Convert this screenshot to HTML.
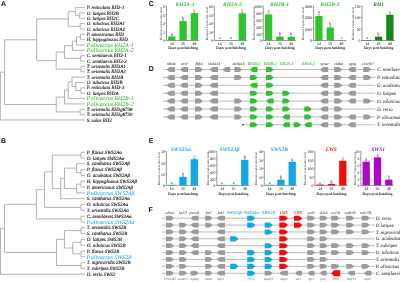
<!DOCTYPE html>
<html><head><meta charset="utf-8"><style>
html,body{margin:0;padding:0;background:#fff;}
body{width:400px;height:282px;overflow:hidden;}
svg{display:block;text-rendering:geometricPrecision;}
.s{font-family:'Liberation Serif','DejaVu Serif',serif;}
.a{font-family:'Liberation Sans','DejaVu Sans',sans-serif;}
</style></head><body>
<svg width="400" height="282" viewBox="0 0 400 282">
<rect width="400" height="282" fill="#fff"/>
<text class="a" x="0.90" y="5.80" font-size="7.0" fill="#111" font-weight="bold">A</text>
<text class="a" x="1.00" y="143.20" font-size="7.0" fill="#111" font-weight="bold">B</text>
<text class="a" x="148.80" y="5.70" font-size="7.0" fill="#111" font-weight="bold">C</text>
<text class="a" x="148.80" y="70.90" font-size="7.0" fill="#111" font-weight="bold">D</text>
<text class="a" x="148.80" y="143.40" font-size="7.0" fill="#111" font-weight="bold">E</text>
<text class="a" x="148.60" y="211.90" font-size="7.0" fill="#111" font-weight="bold">F</text>
<line x1="0.40" y1="72.13" x2="0.40" y2="119.95" stroke="#ababab" stroke-width="0.9"/>
<line x1="0.40" y1="72.13" x2="4.60" y2="72.13" stroke="#ababab" stroke-width="0.9"/>
<line x1="0.40" y1="119.95" x2="85.00" y2="119.95" stroke="#ababab" stroke-width="0.9"/>
<line x1="4.60" y1="39.78" x2="4.60" y2="104.49" stroke="#ababab" stroke-width="0.9"/>
<line x1="4.60" y1="39.78" x2="36.70" y2="39.78" stroke="#ababab" stroke-width="0.9"/>
<line x1="4.60" y1="104.49" x2="56.20" y2="104.49" stroke="#ababab" stroke-width="0.9"/>
<line x1="36.70" y1="18.97" x2="36.70" y2="60.60" stroke="#ababab" stroke-width="0.9"/>
<line x1="36.70" y1="18.97" x2="68.20" y2="18.97" stroke="#ababab" stroke-width="0.9"/>
<line x1="36.70" y1="60.60" x2="56.20" y2="60.60" stroke="#ababab" stroke-width="0.9"/>
<line x1="68.20" y1="11.61" x2="68.20" y2="26.32" stroke="#ababab" stroke-width="0.9"/>
<line x1="68.20" y1="11.61" x2="75.70" y2="11.61" stroke="#ababab" stroke-width="0.9"/>
<line x1="68.20" y1="26.32" x2="80.20" y2="26.32" stroke="#ababab" stroke-width="0.9"/>
<line x1="75.70" y1="7.60" x2="75.70" y2="15.62" stroke="#ababab" stroke-width="0.9"/>
<line x1="75.70" y1="7.60" x2="85.00" y2="7.60" stroke="#ababab" stroke-width="0.9"/>
<line x1="75.70" y1="15.62" x2="79.60" y2="15.62" stroke="#ababab" stroke-width="0.9"/>
<line x1="79.60" y1="12.95" x2="79.60" y2="18.30" stroke="#ababab" stroke-width="0.9"/>
<line x1="79.60" y1="12.95" x2="85.00" y2="12.95" stroke="#ababab" stroke-width="0.9"/>
<line x1="79.60" y1="18.30" x2="85.00" y2="18.30" stroke="#ababab" stroke-width="0.9"/>
<line x1="80.20" y1="23.65" x2="80.20" y2="29.00" stroke="#ababab" stroke-width="0.9"/>
<line x1="80.20" y1="23.65" x2="85.00" y2="23.65" stroke="#ababab" stroke-width="0.9"/>
<line x1="80.20" y1="29.00" x2="85.00" y2="29.00" stroke="#ababab" stroke-width="0.9"/>
<line x1="56.20" y1="52.07" x2="56.20" y2="69.12" stroke="#ababab" stroke-width="0.9"/>
<line x1="56.20" y1="52.07" x2="64.50" y2="52.07" stroke="#ababab" stroke-width="0.9"/>
<line x1="56.20" y1="69.12" x2="81.00" y2="69.12" stroke="#ababab" stroke-width="0.9"/>
<line x1="64.50" y1="45.72" x2="64.50" y2="58.42" stroke="#ababab" stroke-width="0.9"/>
<line x1="64.50" y1="45.72" x2="72.40" y2="45.72" stroke="#ababab" stroke-width="0.9"/>
<line x1="64.50" y1="58.42" x2="80.60" y2="58.42" stroke="#ababab" stroke-width="0.9"/>
<line x1="72.40" y1="41.04" x2="72.40" y2="50.40" stroke="#ababab" stroke-width="0.9"/>
<line x1="72.40" y1="41.04" x2="76.50" y2="41.04" stroke="#ababab" stroke-width="0.9"/>
<line x1="72.40" y1="50.40" x2="85.00" y2="50.40" stroke="#ababab" stroke-width="0.9"/>
<line x1="76.50" y1="37.02" x2="76.50" y2="45.05" stroke="#ababab" stroke-width="0.9"/>
<line x1="76.50" y1="37.02" x2="80.40" y2="37.02" stroke="#ababab" stroke-width="0.9"/>
<line x1="76.50" y1="45.05" x2="85.00" y2="45.05" stroke="#ababab" stroke-width="0.9"/>
<line x1="80.40" y1="34.35" x2="80.40" y2="39.70" stroke="#ababab" stroke-width="0.9"/>
<line x1="80.40" y1="34.35" x2="85.00" y2="34.35" stroke="#ababab" stroke-width="0.9"/>
<line x1="80.40" y1="39.70" x2="85.00" y2="39.70" stroke="#ababab" stroke-width="0.9"/>
<line x1="80.60" y1="55.75" x2="80.60" y2="61.10" stroke="#ababab" stroke-width="0.9"/>
<line x1="80.60" y1="55.75" x2="85.00" y2="55.75" stroke="#ababab" stroke-width="0.9"/>
<line x1="80.60" y1="61.10" x2="85.00" y2="61.10" stroke="#ababab" stroke-width="0.9"/>
<line x1="81.00" y1="66.45" x2="81.00" y2="71.80" stroke="#ababab" stroke-width="0.9"/>
<line x1="81.00" y1="66.45" x2="85.00" y2="66.45" stroke="#ababab" stroke-width="0.9"/>
<line x1="81.00" y1="71.80" x2="85.00" y2="71.80" stroke="#ababab" stroke-width="0.9"/>
<line x1="56.20" y1="97.05" x2="56.20" y2="111.92" stroke="#ababab" stroke-width="0.9"/>
<line x1="56.20" y1="97.05" x2="64.50" y2="97.05" stroke="#ababab" stroke-width="0.9"/>
<line x1="56.20" y1="111.92" x2="80.20" y2="111.92" stroke="#ababab" stroke-width="0.9"/>
<line x1="64.50" y1="90.19" x2="64.50" y2="103.90" stroke="#ababab" stroke-width="0.9"/>
<line x1="64.50" y1="90.19" x2="68.20" y2="90.19" stroke="#ababab" stroke-width="0.9"/>
<line x1="64.50" y1="103.90" x2="85.00" y2="103.90" stroke="#ababab" stroke-width="0.9"/>
<line x1="68.20" y1="81.83" x2="68.20" y2="98.55" stroke="#ababab" stroke-width="0.9"/>
<line x1="68.20" y1="81.83" x2="72.00" y2="81.83" stroke="#ababab" stroke-width="0.9"/>
<line x1="68.20" y1="98.55" x2="85.00" y2="98.55" stroke="#ababab" stroke-width="0.9"/>
<line x1="72.00" y1="77.15" x2="72.00" y2="86.51" stroke="#ababab" stroke-width="0.9"/>
<line x1="72.00" y1="77.15" x2="85.00" y2="77.15" stroke="#ababab" stroke-width="0.9"/>
<line x1="72.00" y1="86.51" x2="75.70" y2="86.51" stroke="#ababab" stroke-width="0.9"/>
<line x1="75.70" y1="82.50" x2="75.70" y2="90.52" stroke="#ababab" stroke-width="0.9"/>
<line x1="75.70" y1="82.50" x2="85.00" y2="82.50" stroke="#ababab" stroke-width="0.9"/>
<line x1="75.70" y1="90.52" x2="81.00" y2="90.52" stroke="#ababab" stroke-width="0.9"/>
<line x1="81.00" y1="87.85" x2="81.00" y2="93.20" stroke="#ababab" stroke-width="0.9"/>
<line x1="81.00" y1="87.85" x2="85.00" y2="87.85" stroke="#ababab" stroke-width="0.9"/>
<line x1="81.00" y1="93.20" x2="85.00" y2="93.20" stroke="#ababab" stroke-width="0.9"/>
<line x1="80.20" y1="109.25" x2="80.20" y2="114.60" stroke="#ababab" stroke-width="0.9"/>
<line x1="80.20" y1="109.25" x2="85.00" y2="109.25" stroke="#ababab" stroke-width="0.9"/>
<line x1="80.20" y1="114.60" x2="85.00" y2="114.60" stroke="#ababab" stroke-width="0.9"/>
<text class="s" x="86.80" y="9.15" font-size="4.85" fill="#1a1a1a" font-style="italic" stroke="#1a1a1a" stroke-width="0.13">P. reticulata RH2-1</text>
<text class="s" x="86.80" y="14.50" font-size="4.85" fill="#1a1a1a" font-style="italic" stroke="#1a1a1a" stroke-width="0.13">O. latipes RH2B</text>
<text class="s" x="86.80" y="19.85" font-size="4.85" fill="#1a1a1a" font-style="italic" stroke="#1a1a1a" stroke-width="0.13">O. latipes RH2C</text>
<text class="s" x="86.80" y="25.20" font-size="4.85" fill="#1a1a1a" font-style="italic" stroke="#1a1a1a" stroke-width="0.13">O. niloticus RH2A1</text>
<text class="s" x="86.80" y="30.55" font-size="4.85" fill="#1a1a1a" font-style="italic" stroke="#1a1a1a" stroke-width="0.13">O. niloticus RH2A2</text>
<text class="s" x="86.80" y="35.90" font-size="4.85" fill="#1a1a1a" font-style="italic" stroke="#1a1a1a" stroke-width="0.13">P. americanus RH2</text>
<text class="s" x="86.80" y="41.25" font-size="4.85" fill="#1a1a1a" font-style="italic" stroke="#1a1a1a" stroke-width="0.13">H. hippoglossus RH2</text>
<text class="s" x="86.60" y="46.95" font-size="5.85" fill="#27b827" font-style="italic" stroke="#27b827" stroke-width="0.03">P.olivaceus RH2A-1</text>
<text class="s" x="86.60" y="52.30" font-size="5.85" fill="#27b827" font-style="italic" stroke="#27b827" stroke-width="0.03">P.olivaceus RH2A-2</text>
<text class="s" x="86.80" y="57.30" font-size="4.85" fill="#1a1a1a" font-style="italic" stroke="#1a1a1a" stroke-width="0.13">C. semilaevis RH2-1</text>
<text class="s" x="86.80" y="62.65" font-size="4.85" fill="#1a1a1a" font-style="italic" stroke="#1a1a1a" stroke-width="0.13">C. semilaevis RH2-2</text>
<text class="s" x="86.80" y="68.00" font-size="4.85" fill="#1a1a1a" font-style="italic" stroke="#1a1a1a" stroke-width="0.13">T. orientalis RH2A1</text>
<text class="s" x="86.80" y="73.35" font-size="4.85" fill="#1a1a1a" font-style="italic" stroke="#1a1a1a" stroke-width="0.13">T. orientalis RH2A2</text>
<text class="s" x="86.80" y="78.70" font-size="4.85" fill="#1a1a1a" font-style="italic" stroke="#1a1a1a" stroke-width="0.13">T. orientalis RH2B</text>
<text class="s" x="86.80" y="84.05" font-size="4.85" fill="#1a1a1a" font-style="italic" stroke="#1a1a1a" stroke-width="0.13">O. niloticus RH2B</text>
<text class="s" x="86.80" y="89.40" font-size="4.85" fill="#1a1a1a" font-style="italic" stroke="#1a1a1a" stroke-width="0.13">P. reticulata RH2-2</text>
<text class="s" x="86.80" y="94.75" font-size="4.85" fill="#1a1a1a" font-style="italic" stroke="#1a1a1a" stroke-width="0.13">O. latipes RH2A</text>
<text class="s" x="86.60" y="100.45" font-size="5.85" fill="#27b827" font-style="italic" stroke="#27b827" stroke-width="0.03">P.olivaceus RH2B-1</text>
<text class="s" x="86.60" y="105.80" font-size="5.85" fill="#27b827" font-style="italic" stroke="#27b827" stroke-width="0.03">P.olivaceus RH2B-2</text>
<text class="s" x="86.80" y="110.80" font-size="4.85" fill="#1a1a1a" font-style="italic" stroke="#1a1a1a" stroke-width="0.13">T. orientalis RH2g6738</text>
<text class="s" x="86.80" y="116.15" font-size="4.85" fill="#1a1a1a" font-style="italic" stroke="#1a1a1a" stroke-width="0.13">T. orientalis RH2g6739</text>
<text class="s" x="86.80" y="121.50" font-size="4.85" fill="#1a1a1a" font-style="italic" stroke="#1a1a1a" stroke-width="0.13">S. salar RH2</text>
<line x1="0.50" y1="228.37" x2="0.50" y2="274.21" stroke="#ababab" stroke-width="0.9"/>
<line x1="0.50" y1="228.37" x2="4.50" y2="228.37" stroke="#ababab" stroke-width="0.9"/>
<line x1="0.50" y1="274.21" x2="85.00" y2="274.21" stroke="#ababab" stroke-width="0.9"/>
<line x1="4.50" y1="204.31" x2="4.50" y2="252.42" stroke="#ababab" stroke-width="0.9"/>
<line x1="4.50" y1="204.31" x2="36.40" y2="204.31" stroke="#ababab" stroke-width="0.9"/>
<line x1="4.50" y1="252.42" x2="56.50" y2="252.42" stroke="#ababab" stroke-width="0.9"/>
<line x1="36.40" y1="189.60" x2="36.40" y2="219.01" stroke="#ababab" stroke-width="0.9"/>
<line x1="36.40" y1="189.60" x2="44.50" y2="189.60" stroke="#ababab" stroke-width="0.9"/>
<line x1="36.40" y1="219.01" x2="81.00" y2="219.01" stroke="#ababab" stroke-width="0.9"/>
<line x1="44.50" y1="171.81" x2="44.50" y2="207.39" stroke="#ababab" stroke-width="0.9"/>
<line x1="44.50" y1="171.81" x2="52.30" y2="171.81" stroke="#ababab" stroke-width="0.9"/>
<line x1="44.50" y1="207.39" x2="81.00" y2="207.39" stroke="#ababab" stroke-width="0.9"/>
<line x1="52.30" y1="155.10" x2="52.30" y2="188.51" stroke="#ababab" stroke-width="0.9"/>
<line x1="52.30" y1="155.10" x2="81.00" y2="155.10" stroke="#ababab" stroke-width="0.9"/>
<line x1="52.30" y1="188.51" x2="60.70" y2="188.51" stroke="#ababab" stroke-width="0.9"/>
<line x1="81.00" y1="152.20" x2="81.00" y2="158.01" stroke="#ababab" stroke-width="0.9"/>
<line x1="81.00" y1="152.20" x2="85.00" y2="152.20" stroke="#ababab" stroke-width="0.9"/>
<line x1="81.00" y1="158.01" x2="85.00" y2="158.01" stroke="#ababab" stroke-width="0.9"/>
<line x1="60.70" y1="178.34" x2="60.70" y2="198.68" stroke="#ababab" stroke-width="0.9"/>
<line x1="60.70" y1="178.34" x2="64.50" y2="178.34" stroke="#ababab" stroke-width="0.9"/>
<line x1="60.70" y1="198.68" x2="85.00" y2="198.68" stroke="#ababab" stroke-width="0.9"/>
<line x1="64.50" y1="168.18" x2="64.50" y2="188.51" stroke="#ababab" stroke-width="0.9"/>
<line x1="64.50" y1="168.18" x2="76.50" y2="168.18" stroke="#ababab" stroke-width="0.9"/>
<line x1="64.50" y1="188.51" x2="76.50" y2="188.51" stroke="#ababab" stroke-width="0.9"/>
<line x1="76.50" y1="163.82" x2="76.50" y2="172.53" stroke="#ababab" stroke-width="0.9"/>
<line x1="76.50" y1="163.82" x2="85.00" y2="163.82" stroke="#ababab" stroke-width="0.9"/>
<line x1="76.50" y1="172.53" x2="81.00" y2="172.53" stroke="#ababab" stroke-width="0.9"/>
<line x1="81.00" y1="169.63" x2="81.00" y2="175.44" stroke="#ababab" stroke-width="0.9"/>
<line x1="81.00" y1="169.63" x2="85.00" y2="169.63" stroke="#ababab" stroke-width="0.9"/>
<line x1="81.00" y1="175.44" x2="85.00" y2="175.44" stroke="#ababab" stroke-width="0.9"/>
<line x1="76.50" y1="184.16" x2="76.50" y2="192.87" stroke="#ababab" stroke-width="0.9"/>
<line x1="76.50" y1="184.16" x2="81.00" y2="184.16" stroke="#ababab" stroke-width="0.9"/>
<line x1="76.50" y1="192.87" x2="85.00" y2="192.87" stroke="#ababab" stroke-width="0.9"/>
<line x1="81.00" y1="181.25" x2="81.00" y2="187.06" stroke="#ababab" stroke-width="0.9"/>
<line x1="81.00" y1="181.25" x2="85.00" y2="181.25" stroke="#ababab" stroke-width="0.9"/>
<line x1="81.00" y1="187.06" x2="85.00" y2="187.06" stroke="#ababab" stroke-width="0.9"/>
<line x1="81.00" y1="204.49" x2="81.00" y2="210.30" stroke="#ababab" stroke-width="0.9"/>
<line x1="81.00" y1="204.49" x2="85.00" y2="204.49" stroke="#ababab" stroke-width="0.9"/>
<line x1="81.00" y1="210.30" x2="85.00" y2="210.30" stroke="#ababab" stroke-width="0.9"/>
<line x1="81.00" y1="216.11" x2="81.00" y2="221.92" stroke="#ababab" stroke-width="0.9"/>
<line x1="81.00" y1="216.11" x2="85.00" y2="216.11" stroke="#ababab" stroke-width="0.9"/>
<line x1="81.00" y1="221.92" x2="85.00" y2="221.92" stroke="#ababab" stroke-width="0.9"/>
<line x1="56.50" y1="239.35" x2="56.50" y2="265.50" stroke="#ababab" stroke-width="0.9"/>
<line x1="56.50" y1="239.35" x2="64.50" y2="239.35" stroke="#ababab" stroke-width="0.9"/>
<line x1="56.50" y1="265.50" x2="81.00" y2="265.50" stroke="#ababab" stroke-width="0.9"/>
<line x1="64.50" y1="230.63" x2="64.50" y2="248.06" stroke="#ababab" stroke-width="0.9"/>
<line x1="64.50" y1="230.63" x2="81.00" y2="230.63" stroke="#ababab" stroke-width="0.9"/>
<line x1="64.50" y1="248.06" x2="72.70" y2="248.06" stroke="#ababab" stroke-width="0.9"/>
<line x1="81.00" y1="227.73" x2="81.00" y2="233.54" stroke="#ababab" stroke-width="0.9"/>
<line x1="81.00" y1="227.73" x2="85.00" y2="227.73" stroke="#ababab" stroke-width="0.9"/>
<line x1="81.00" y1="233.54" x2="85.00" y2="233.54" stroke="#ababab" stroke-width="0.9"/>
<line x1="72.70" y1="242.25" x2="72.70" y2="253.87" stroke="#ababab" stroke-width="0.9"/>
<line x1="72.70" y1="242.25" x2="81.00" y2="242.25" stroke="#ababab" stroke-width="0.9"/>
<line x1="72.70" y1="253.87" x2="81.00" y2="253.87" stroke="#ababab" stroke-width="0.9"/>
<line x1="81.00" y1="239.35" x2="81.00" y2="245.16" stroke="#ababab" stroke-width="0.9"/>
<line x1="81.00" y1="239.35" x2="85.00" y2="239.35" stroke="#ababab" stroke-width="0.9"/>
<line x1="81.00" y1="245.16" x2="85.00" y2="245.16" stroke="#ababab" stroke-width="0.9"/>
<line x1="81.00" y1="250.97" x2="81.00" y2="256.78" stroke="#ababab" stroke-width="0.9"/>
<line x1="81.00" y1="250.97" x2="85.00" y2="250.97" stroke="#ababab" stroke-width="0.9"/>
<line x1="81.00" y1="256.78" x2="85.00" y2="256.78" stroke="#ababab" stroke-width="0.9"/>
<line x1="81.00" y1="262.59" x2="81.00" y2="268.40" stroke="#ababab" stroke-width="0.9"/>
<line x1="81.00" y1="262.59" x2="85.00" y2="262.59" stroke="#ababab" stroke-width="0.9"/>
<line x1="81.00" y1="268.40" x2="85.00" y2="268.40" stroke="#ababab" stroke-width="0.9"/>
<text class="s" x="86.80" y="153.85" font-size="4.95" fill="#1a1a1a" font-style="italic" stroke="#1a1a1a" stroke-width="0.13">P. flavus SWS2A&#945;</text>
<text class="s" x="86.80" y="159.66" font-size="4.95" fill="#1a1a1a" font-style="italic" stroke="#1a1a1a" stroke-width="0.13">O. latipes SWS2A&#945;</text>
<text class="s" x="86.80" y="165.47" font-size="4.95" fill="#1a1a1a" font-style="italic" stroke="#1a1a1a" stroke-width="0.13">S. cantharus SWS2A&#946;</text>
<text class="s" x="86.80" y="171.28" font-size="4.95" fill="#1a1a1a" font-style="italic" stroke="#1a1a1a" stroke-width="0.13">P. flavus SWS2A&#946;</text>
<text class="s" x="86.80" y="177.09" font-size="4.95" fill="#1a1a1a" font-style="italic" stroke="#1a1a1a" stroke-width="0.13">G. aculeatus SWS2A&#946;</text>
<text class="s" x="86.80" y="182.90" font-size="4.95" fill="#1a1a1a" font-style="italic" stroke="#1a1a1a" stroke-width="0.13">H. hippoglossus SWS2A&#946;</text>
<text class="s" x="86.80" y="188.71" font-size="4.95" fill="#1a1a1a" font-style="italic" stroke="#1a1a1a" stroke-width="0.13">P. americanus SWS2A&#946;</text>
<text class="s" x="86.60" y="194.87" font-size="5.85" fill="#12a8e8" font-style="italic" stroke="#12a8e8" stroke-width="0.03">P.olivaceus SWS2A&#946;</text>
<text class="s" x="86.80" y="200.33" font-size="4.95" fill="#1a1a1a" font-style="italic" stroke="#1a1a1a" stroke-width="0.13">S. cantharus SWS2A&#945;</text>
<text class="s" x="86.80" y="206.14" font-size="4.95" fill="#1a1a1a" font-style="italic" stroke="#1a1a1a" stroke-width="0.13">O. niloticus SWS2A&#945;</text>
<text class="s" x="86.80" y="211.95" font-size="4.95" fill="#1a1a1a" font-style="italic" stroke="#1a1a1a" stroke-width="0.13">T. orientalis SWS2A&#945;</text>
<text class="s" x="86.80" y="217.76" font-size="4.95" fill="#1a1a1a" font-style="italic" stroke="#1a1a1a" stroke-width="0.13">C. semilaevis SWS2A&#945;</text>
<text class="s" x="86.60" y="223.92" font-size="5.85" fill="#12a8e8" font-style="italic" stroke="#12a8e8" stroke-width="0.03">P.olivaceus SWS2A&#945;</text>
<text class="s" x="86.80" y="229.38" font-size="4.95" fill="#1a1a1a" font-style="italic" stroke="#1a1a1a" stroke-width="0.13">T. orientalis SWS2B</text>
<text class="s" x="86.80" y="235.19" font-size="4.95" fill="#1a1a1a" font-style="italic" stroke="#1a1a1a" stroke-width="0.13">S. cantharus SWS2B</text>
<text class="s" x="86.80" y="241.00" font-size="4.95" fill="#1a1a1a" font-style="italic" stroke="#1a1a1a" stroke-width="0.13">O. latipes SWS2B</text>
<text class="s" x="86.80" y="246.81" font-size="4.95" fill="#1a1a1a" font-style="italic" stroke="#1a1a1a" stroke-width="0.13">O. niloticus SWS2B</text>
<text class="s" x="86.80" y="252.62" font-size="4.95" fill="#1a1a1a" font-style="italic" stroke="#1a1a1a" stroke-width="0.13">P. flavus SWS2B</text>
<text class="s" x="86.60" y="258.78" font-size="5.85" fill="#12a8e8" font-style="italic" stroke="#12a8e8" stroke-width="0.03">P.olivaceus SWS2B</text>
<text class="s" x="86.80" y="264.24" font-size="4.95" fill="#1a1a1a" font-style="italic" stroke="#1a1a1a" stroke-width="0.13">T. nigroviridis SWS2B</text>
<text class="s" x="86.80" y="270.05" font-size="4.95" fill="#1a1a1a" font-style="italic" stroke="#1a1a1a" stroke-width="0.13">T. rubripes SWS2B</text>
<text class="s" x="86.80" y="275.86" font-size="4.95" fill="#1a1a1a" font-style="italic" stroke="#1a1a1a" stroke-width="0.13">D. rerio SWS2</text>
<line x1="166.50" y1="6.00" x2="166.50" y2="40.50" stroke="#555" stroke-width="0.6"/>
<line x1="166.50" y1="40.50" x2="199.25" y2="40.50" stroke="#555" stroke-width="0.6"/>
<line x1="165.30" y1="40.50" x2="166.50" y2="40.50" stroke="#555" stroke-width="0.5"/>
<text class="s" x="164.90" y="42.40" font-size="3.7" fill="#333" stroke="#333" stroke-width="0.05" text-anchor="end">0</text>
<line x1="165.30" y1="31.88" x2="166.50" y2="31.88" stroke="#555" stroke-width="0.5"/>
<text class="s" x="164.90" y="33.77" font-size="3.7" fill="#333" stroke="#333" stroke-width="0.05" text-anchor="end">2</text>
<line x1="165.30" y1="23.25" x2="166.50" y2="23.25" stroke="#555" stroke-width="0.5"/>
<text class="s" x="164.90" y="25.15" font-size="3.7" fill="#333" stroke="#333" stroke-width="0.05" text-anchor="end">4</text>
<line x1="165.30" y1="14.62" x2="166.50" y2="14.62" stroke="#555" stroke-width="0.5"/>
<text class="s" x="164.90" y="16.52" font-size="3.7" fill="#333" stroke="#333" stroke-width="0.05" text-anchor="end">6</text>
<line x1="165.30" y1="6.00" x2="166.50" y2="6.00" stroke="#555" stroke-width="0.5"/>
<text class="s" x="164.90" y="7.90" font-size="3.7" fill="#333" stroke="#333" stroke-width="0.05" text-anchor="end">8</text>
<rect x="168.15" y="36.50" width="7.30" height="4.00" fill="#2ec42e"/>
<line x1="171.80" y1="35.70" x2="171.80" y2="36.50" stroke="#333" stroke-width="0.4"/>
<line x1="170.80" y1="35.70" x2="172.80" y2="35.70" stroke="#333" stroke-width="0.4"/>
<text class="s" x="171.80" y="34.70" font-size="3.9" fill="#333" stroke="#333" stroke-width="0.05" text-anchor="middle">a</text>
<text class="s" x="171.80" y="45.00" font-size="3.8" fill="#222" stroke="#222" stroke-width="0.07" text-anchor="middle">14</text>
<rect x="179.45" y="21.00" width="7.30" height="19.50" fill="#2ec42e"/>
<line x1="183.10" y1="19.80" x2="183.10" y2="21.00" stroke="#333" stroke-width="0.4"/>
<line x1="182.10" y1="19.80" x2="184.10" y2="19.80" stroke="#333" stroke-width="0.4"/>
<text class="s" x="183.10" y="18.80" font-size="3.9" fill="#333" stroke="#333" stroke-width="0.05" text-anchor="middle">b</text>
<text class="s" x="183.10" y="45.00" font-size="3.8" fill="#222" stroke="#222" stroke-width="0.07" text-anchor="middle">25</text>
<rect x="190.75" y="13.10" width="7.30" height="27.40" fill="#2ec42e"/>
<line x1="194.40" y1="11.90" x2="194.40" y2="13.10" stroke="#333" stroke-width="0.4"/>
<line x1="193.40" y1="11.90" x2="195.40" y2="11.90" stroke="#333" stroke-width="0.4"/>
<text class="s" x="194.40" y="10.90" font-size="3.9" fill="#333" stroke="#333" stroke-width="0.05" text-anchor="middle">c</text>
<text class="s" x="194.40" y="45.00" font-size="3.8" fill="#222" stroke="#222" stroke-width="0.07" text-anchor="middle">49</text>
<text class="s" x="183.10" y="49.20" font-size="3.9" fill="#222" stroke="#222" stroke-width="0.08" text-anchor="middle">Days post hatching</text>
<text class="s" x="161.90" y="23.25" font-size="3.3" fill="#333" text-anchor="middle" transform="rotate(-90 161.90 23.25)">Relative expression level</text>
<text class="s" x="185.00" y="5.60" font-size="5.5" fill="#2ec42e" font-style="italic" font-weight="bold" text-anchor="middle">RH2A-1</text>
<line x1="214.40" y1="6.00" x2="214.40" y2="40.50" stroke="#555" stroke-width="0.6"/>
<line x1="214.40" y1="40.50" x2="247.15" y2="40.50" stroke="#555" stroke-width="0.6"/>
<line x1="213.20" y1="40.50" x2="214.40" y2="40.50" stroke="#555" stroke-width="0.5"/>
<text class="s" x="212.80" y="42.40" font-size="3.7" fill="#333" stroke="#333" stroke-width="0.05" text-anchor="end">0</text>
<line x1="213.20" y1="31.88" x2="214.40" y2="31.88" stroke="#555" stroke-width="0.5"/>
<text class="s" x="212.80" y="33.77" font-size="3.7" fill="#333" stroke="#333" stroke-width="0.05" text-anchor="end">20</text>
<line x1="213.20" y1="23.25" x2="214.40" y2="23.25" stroke="#555" stroke-width="0.5"/>
<text class="s" x="212.80" y="25.15" font-size="3.7" fill="#333" stroke="#333" stroke-width="0.05" text-anchor="end">40</text>
<line x1="213.20" y1="14.62" x2="214.40" y2="14.62" stroke="#555" stroke-width="0.5"/>
<text class="s" x="212.80" y="16.52" font-size="3.7" fill="#333" stroke="#333" stroke-width="0.05" text-anchor="end">60</text>
<line x1="213.20" y1="6.00" x2="214.40" y2="6.00" stroke="#555" stroke-width="0.5"/>
<text class="s" x="212.80" y="7.90" font-size="3.7" fill="#333" stroke="#333" stroke-width="0.05" text-anchor="end">80</text>
<rect x="216.05" y="40.00" width="7.30" height="0.50" fill="#2ec42e"/>
<text class="s" x="219.70" y="39.00" font-size="3.9" fill="#333" stroke="#333" stroke-width="0.05" text-anchor="middle">a</text>
<text class="s" x="219.70" y="45.00" font-size="3.8" fill="#222" stroke="#222" stroke-width="0.07" text-anchor="middle">14</text>
<rect x="227.35" y="40.00" width="7.30" height="0.50" fill="#2ec42e"/>
<text class="s" x="231.00" y="39.00" font-size="3.9" fill="#333" stroke="#333" stroke-width="0.05" text-anchor="middle">a</text>
<text class="s" x="231.00" y="45.00" font-size="3.8" fill="#222" stroke="#222" stroke-width="0.07" text-anchor="middle">25</text>
<rect x="238.65" y="13.30" width="7.30" height="27.20" fill="#2ec42e"/>
<line x1="242.30" y1="12.10" x2="242.30" y2="13.30" stroke="#333" stroke-width="0.4"/>
<line x1="241.30" y1="12.10" x2="243.30" y2="12.10" stroke="#333" stroke-width="0.4"/>
<text class="s" x="242.30" y="11.10" font-size="3.9" fill="#333" stroke="#333" stroke-width="0.05" text-anchor="middle">c</text>
<text class="s" x="242.30" y="45.00" font-size="3.8" fill="#222" stroke="#222" stroke-width="0.07" text-anchor="middle">49</text>
<text class="s" x="231.00" y="49.20" font-size="3.9" fill="#222" stroke="#222" stroke-width="0.08" text-anchor="middle">Days post hatching</text>
<text class="s" x="208.40" y="23.25" font-size="3.3" fill="#333" text-anchor="middle" transform="rotate(-90 208.40 23.25)">Relative expression level</text>
<text class="s" x="232.50" y="5.60" font-size="5.5" fill="#2ec42e" font-style="italic" font-weight="bold" text-anchor="middle">RH2A-2</text>
<line x1="263.30" y1="6.00" x2="263.30" y2="40.50" stroke="#555" stroke-width="0.6"/>
<line x1="263.30" y1="40.50" x2="296.05" y2="40.50" stroke="#555" stroke-width="0.6"/>
<line x1="262.10" y1="40.50" x2="263.30" y2="40.50" stroke="#555" stroke-width="0.5"/>
<text class="s" x="261.70" y="42.40" font-size="3.7" fill="#333" stroke="#333" stroke-width="0.05" text-anchor="end">0</text>
<line x1="262.10" y1="33.60" x2="263.30" y2="33.60" stroke="#555" stroke-width="0.5"/>
<text class="s" x="261.70" y="35.50" font-size="3.7" fill="#333" stroke="#333" stroke-width="0.05" text-anchor="end">200</text>
<line x1="262.10" y1="26.70" x2="263.30" y2="26.70" stroke="#555" stroke-width="0.5"/>
<text class="s" x="261.70" y="28.60" font-size="3.7" fill="#333" stroke="#333" stroke-width="0.05" text-anchor="end">400</text>
<line x1="262.10" y1="19.80" x2="263.30" y2="19.80" stroke="#555" stroke-width="0.5"/>
<text class="s" x="261.70" y="21.70" font-size="3.7" fill="#333" stroke="#333" stroke-width="0.05" text-anchor="end">600</text>
<line x1="262.10" y1="12.90" x2="263.30" y2="12.90" stroke="#555" stroke-width="0.5"/>
<text class="s" x="261.70" y="14.80" font-size="3.7" fill="#333" stroke="#333" stroke-width="0.05" text-anchor="end">800</text>
<line x1="262.10" y1="6.00" x2="263.30" y2="6.00" stroke="#555" stroke-width="0.5"/>
<text class="s" x="261.70" y="7.90" font-size="3.7" fill="#333" stroke="#333" stroke-width="0.05" text-anchor="end">1000</text>
<rect x="264.95" y="14.50" width="7.30" height="26.00" fill="#2ec42e"/>
<line x1="268.60" y1="13.30" x2="268.60" y2="14.50" stroke="#333" stroke-width="0.4"/>
<line x1="267.60" y1="13.30" x2="269.60" y2="13.30" stroke="#333" stroke-width="0.4"/>
<text class="s" x="268.60" y="12.30" font-size="3.9" fill="#333" stroke="#333" stroke-width="0.05" text-anchor="middle">a</text>
<text class="s" x="268.60" y="45.00" font-size="3.8" fill="#222" stroke="#222" stroke-width="0.07" text-anchor="middle">14</text>
<rect x="276.25" y="36.70" width="7.30" height="3.80" fill="#2ec42e"/>
<line x1="279.90" y1="36.10" x2="279.90" y2="36.70" stroke="#333" stroke-width="0.4"/>
<line x1="278.90" y1="36.10" x2="280.90" y2="36.10" stroke="#333" stroke-width="0.4"/>
<text class="s" x="279.90" y="35.10" font-size="3.9" fill="#333" stroke="#333" stroke-width="0.05" text-anchor="middle">b</text>
<text class="s" x="279.90" y="45.00" font-size="3.8" fill="#222" stroke="#222" stroke-width="0.07" text-anchor="middle">25</text>
<rect x="287.55" y="36.90" width="7.30" height="3.60" fill="#2ec42e"/>
<line x1="291.20" y1="36.30" x2="291.20" y2="36.90" stroke="#333" stroke-width="0.4"/>
<line x1="290.20" y1="36.30" x2="292.20" y2="36.30" stroke="#333" stroke-width="0.4"/>
<text class="s" x="291.20" y="35.30" font-size="3.9" fill="#333" stroke="#333" stroke-width="0.05" text-anchor="middle">b</text>
<text class="s" x="291.20" y="45.00" font-size="3.8" fill="#222" stroke="#222" stroke-width="0.07" text-anchor="middle">49</text>
<text class="s" x="279.90" y="49.20" font-size="3.9" fill="#222" stroke="#222" stroke-width="0.08" text-anchor="middle">Days post hatching</text>
<text class="s" x="254.90" y="23.25" font-size="3.3" fill="#333" text-anchor="middle" transform="rotate(-90 254.90 23.25)">Relative expression level</text>
<text class="s" x="279.50" y="5.60" font-size="5.5" fill="#2ec42e" font-style="italic" font-weight="bold" text-anchor="middle">RH2B-1</text>
<line x1="313.60" y1="6.00" x2="313.60" y2="40.50" stroke="#555" stroke-width="0.6"/>
<line x1="313.60" y1="40.50" x2="346.35" y2="40.50" stroke="#555" stroke-width="0.6"/>
<line x1="312.40" y1="40.50" x2="313.60" y2="40.50" stroke="#555" stroke-width="0.5"/>
<text class="s" x="312.00" y="42.40" font-size="3.7" fill="#333" stroke="#333" stroke-width="0.05" text-anchor="end">0</text>
<line x1="312.40" y1="29.00" x2="313.60" y2="29.00" stroke="#555" stroke-width="0.5"/>
<text class="s" x="312.00" y="30.90" font-size="3.7" fill="#333" stroke="#333" stroke-width="0.05" text-anchor="end">1000</text>
<line x1="312.40" y1="17.50" x2="313.60" y2="17.50" stroke="#555" stroke-width="0.5"/>
<text class="s" x="312.00" y="19.40" font-size="3.7" fill="#333" stroke="#333" stroke-width="0.05" text-anchor="end">2000</text>
<line x1="312.40" y1="6.00" x2="313.60" y2="6.00" stroke="#555" stroke-width="0.5"/>
<text class="s" x="312.00" y="7.90" font-size="3.7" fill="#333" stroke="#333" stroke-width="0.05" text-anchor="end">3000</text>
<rect x="315.25" y="16.00" width="7.30" height="24.50" fill="#2ec42e"/>
<line x1="318.90" y1="14.20" x2="318.90" y2="16.00" stroke="#333" stroke-width="0.4"/>
<line x1="317.90" y1="14.20" x2="319.90" y2="14.20" stroke="#333" stroke-width="0.4"/>
<text class="s" x="318.90" y="13.20" font-size="3.9" fill="#333" stroke="#333" stroke-width="0.05" text-anchor="middle">a</text>
<text class="s" x="318.90" y="45.00" font-size="3.8" fill="#222" stroke="#222" stroke-width="0.07" text-anchor="middle">14</text>
<rect x="326.55" y="27.50" width="7.30" height="13.00" fill="#2ec42e"/>
<line x1="330.20" y1="26.10" x2="330.20" y2="27.50" stroke="#333" stroke-width="0.4"/>
<line x1="329.20" y1="26.10" x2="331.20" y2="26.10" stroke="#333" stroke-width="0.4"/>
<text class="s" x="330.20" y="25.10" font-size="3.9" fill="#333" stroke="#333" stroke-width="0.05" text-anchor="middle">b</text>
<text class="s" x="330.20" y="45.00" font-size="3.8" fill="#222" stroke="#222" stroke-width="0.07" text-anchor="middle">25</text>
<rect x="337.85" y="40.00" width="7.30" height="0.50" fill="#2ec42e"/>
<text class="s" x="341.50" y="38.70" font-size="3.9" fill="#333" stroke="#333" stroke-width="0.05" text-anchor="middle">c</text>
<text class="s" x="341.50" y="45.00" font-size="3.8" fill="#222" stroke="#222" stroke-width="0.07" text-anchor="middle">49</text>
<text class="s" x="330.20" y="49.20" font-size="3.9" fill="#222" stroke="#222" stroke-width="0.08" text-anchor="middle">Days post hatching</text>
<text class="s" x="304.40" y="23.25" font-size="3.3" fill="#333" text-anchor="middle" transform="rotate(-90 304.40 23.25)">Relative expression level</text>
<text class="s" x="330.00" y="5.60" font-size="5.5" fill="#2ec42e" font-style="italic" font-weight="bold" text-anchor="middle">RH2B-2</text>
<line x1="362.00" y1="6.00" x2="362.00" y2="40.50" stroke="#555" stroke-width="0.6"/>
<line x1="362.00" y1="40.50" x2="394.75" y2="40.50" stroke="#555" stroke-width="0.6"/>
<line x1="360.80" y1="40.50" x2="362.00" y2="40.50" stroke="#555" stroke-width="0.5"/>
<text class="s" x="360.40" y="42.40" font-size="3.7" fill="#333" stroke="#333" stroke-width="0.05" text-anchor="end">0</text>
<line x1="360.80" y1="29.00" x2="362.00" y2="29.00" stroke="#555" stroke-width="0.5"/>
<text class="s" x="360.40" y="30.90" font-size="3.7" fill="#333" stroke="#333" stroke-width="0.05" text-anchor="end">50</text>
<line x1="360.80" y1="17.50" x2="362.00" y2="17.50" stroke="#555" stroke-width="0.5"/>
<text class="s" x="360.40" y="19.40" font-size="3.7" fill="#333" stroke="#333" stroke-width="0.05" text-anchor="end">100</text>
<line x1="360.80" y1="6.00" x2="362.00" y2="6.00" stroke="#555" stroke-width="0.5"/>
<text class="s" x="360.40" y="7.90" font-size="3.7" fill="#333" stroke="#333" stroke-width="0.05" text-anchor="end">150</text>
<rect x="363.65" y="40.00" width="7.30" height="0.50" fill="#178617"/>
<text class="s" x="367.30" y="39.00" font-size="3.9" fill="#333" stroke="#333" stroke-width="0.05" text-anchor="middle">a</text>
<text class="s" x="367.30" y="45.00" font-size="3.8" fill="#222" stroke="#222" stroke-width="0.07" text-anchor="middle">14</text>
<rect x="374.95" y="36.70" width="7.30" height="3.80" fill="#178617"/>
<line x1="378.60" y1="36.10" x2="378.60" y2="36.70" stroke="#333" stroke-width="0.4"/>
<line x1="377.60" y1="36.10" x2="379.60" y2="36.10" stroke="#333" stroke-width="0.4"/>
<text class="s" x="378.60" y="35.10" font-size="3.9" fill="#333" stroke="#333" stroke-width="0.05" text-anchor="middle">b</text>
<text class="s" x="378.60" y="45.00" font-size="3.8" fill="#222" stroke="#222" stroke-width="0.07" text-anchor="middle">25</text>
<rect x="386.25" y="14.80" width="7.30" height="25.70" fill="#178617"/>
<line x1="389.90" y1="13.80" x2="389.90" y2="14.80" stroke="#333" stroke-width="0.4"/>
<line x1="388.90" y1="13.80" x2="390.90" y2="13.80" stroke="#333" stroke-width="0.4"/>
<text class="s" x="389.90" y="12.80" font-size="3.9" fill="#333" stroke="#333" stroke-width="0.05" text-anchor="middle">c</text>
<text class="s" x="389.90" y="45.00" font-size="3.8" fill="#222" stroke="#222" stroke-width="0.07" text-anchor="middle">49</text>
<text class="s" x="378.60" y="49.20" font-size="3.9" fill="#222" stroke="#222" stroke-width="0.08" text-anchor="middle">Days post hatching</text>
<text class="s" x="354.40" y="23.25" font-size="3.3" fill="#333" text-anchor="middle" transform="rotate(-90 354.40 23.25)">Relative expression level</text>
<text class="s" x="378.60" y="5.60" font-size="5.5" fill="#178617" font-style="italic" font-weight="bold" text-anchor="middle">RH1</text>
<line x1="166.40" y1="151.50" x2="166.40" y2="185.40" stroke="#555" stroke-width="0.6"/>
<line x1="166.40" y1="185.40" x2="199.15" y2="185.40" stroke="#555" stroke-width="0.6"/>
<line x1="165.20" y1="185.40" x2="166.40" y2="185.40" stroke="#555" stroke-width="0.5"/>
<text class="s" x="164.80" y="187.30" font-size="3.7" fill="#333" stroke="#333" stroke-width="0.05" text-anchor="end">0</text>
<line x1="165.20" y1="174.10" x2="166.40" y2="174.10" stroke="#555" stroke-width="0.5"/>
<text class="s" x="164.80" y="176.00" font-size="3.7" fill="#333" stroke="#333" stroke-width="0.05" text-anchor="end">10</text>
<line x1="165.20" y1="162.80" x2="166.40" y2="162.80" stroke="#555" stroke-width="0.5"/>
<text class="s" x="164.80" y="164.70" font-size="3.7" fill="#333" stroke="#333" stroke-width="0.05" text-anchor="end">20</text>
<line x1="165.20" y1="151.50" x2="166.40" y2="151.50" stroke="#555" stroke-width="0.5"/>
<text class="s" x="164.80" y="153.40" font-size="3.7" fill="#333" stroke="#333" stroke-width="0.05" text-anchor="end">30</text>
<rect x="168.05" y="184.80" width="7.30" height="0.60" fill="#12a8e8"/>
<text class="s" x="171.70" y="183.50" font-size="3.9" fill="#333" stroke="#333" stroke-width="0.05" text-anchor="middle">a</text>
<text class="s" x="171.70" y="189.90" font-size="3.8" fill="#222" stroke="#222" stroke-width="0.07" text-anchor="middle">14</text>
<rect x="179.35" y="176.80" width="7.30" height="8.60" fill="#12a8e8"/>
<line x1="183.00" y1="175.90" x2="183.00" y2="176.80" stroke="#333" stroke-width="0.4"/>
<line x1="182.00" y1="175.90" x2="184.00" y2="175.90" stroke="#333" stroke-width="0.4"/>
<text class="s" x="183.00" y="174.90" font-size="3.9" fill="#333" stroke="#333" stroke-width="0.05" text-anchor="middle">b</text>
<text class="s" x="183.00" y="189.90" font-size="3.8" fill="#222" stroke="#222" stroke-width="0.07" text-anchor="middle">25</text>
<rect x="190.65" y="159.20" width="7.30" height="26.20" fill="#12a8e8"/>
<line x1="194.30" y1="158.20" x2="194.30" y2="159.20" stroke="#333" stroke-width="0.4"/>
<line x1="193.30" y1="158.20" x2="195.30" y2="158.20" stroke="#333" stroke-width="0.4"/>
<text class="s" x="194.30" y="157.20" font-size="3.9" fill="#333" stroke="#333" stroke-width="0.05" text-anchor="middle">c</text>
<text class="s" x="194.30" y="189.90" font-size="3.8" fill="#222" stroke="#222" stroke-width="0.07" text-anchor="middle">49</text>
<text class="s" x="183.00" y="194.60" font-size="3.9" fill="#222" stroke="#222" stroke-width="0.08" text-anchor="middle">Days post hatching</text>
<text class="s" x="160.40" y="168.45" font-size="3.3" fill="#333" text-anchor="middle" transform="rotate(-90 160.40 168.45)">Relative expression level</text>
<text class="s" x="181.00" y="151.40" font-size="5.5" fill="#12a8e8" font-style="italic" font-weight="bold" text-anchor="middle">SWS2A&#945;</text>
<line x1="216.90" y1="151.50" x2="216.90" y2="185.40" stroke="#555" stroke-width="0.6"/>
<line x1="216.90" y1="185.40" x2="249.65" y2="185.40" stroke="#555" stroke-width="0.6"/>
<line x1="215.70" y1="185.40" x2="216.90" y2="185.40" stroke="#555" stroke-width="0.5"/>
<text class="s" x="215.30" y="187.30" font-size="3.7" fill="#333" stroke="#333" stroke-width="0.05" text-anchor="end">0</text>
<line x1="215.70" y1="178.62" x2="216.90" y2="178.62" stroke="#555" stroke-width="0.5"/>
<text class="s" x="215.30" y="180.52" font-size="3.7" fill="#333" stroke="#333" stroke-width="0.05" text-anchor="end">200</text>
<line x1="215.70" y1="171.84" x2="216.90" y2="171.84" stroke="#555" stroke-width="0.5"/>
<text class="s" x="215.30" y="173.74" font-size="3.7" fill="#333" stroke="#333" stroke-width="0.05" text-anchor="end">400</text>
<line x1="215.70" y1="165.06" x2="216.90" y2="165.06" stroke="#555" stroke-width="0.5"/>
<text class="s" x="215.30" y="166.96" font-size="3.7" fill="#333" stroke="#333" stroke-width="0.05" text-anchor="end">600</text>
<line x1="215.70" y1="158.28" x2="216.90" y2="158.28" stroke="#555" stroke-width="0.5"/>
<text class="s" x="215.30" y="160.18" font-size="3.7" fill="#333" stroke="#333" stroke-width="0.05" text-anchor="end">800</text>
<line x1="215.70" y1="151.50" x2="216.90" y2="151.50" stroke="#555" stroke-width="0.5"/>
<text class="s" x="215.30" y="153.40" font-size="3.7" fill="#333" stroke="#333" stroke-width="0.05" text-anchor="end">1000</text>
<rect x="218.55" y="184.90" width="7.30" height="0.50" fill="#12a8e8"/>
<text class="s" x="222.20" y="183.90" font-size="3.9" fill="#333" stroke="#333" stroke-width="0.05" text-anchor="middle">a</text>
<text class="s" x="222.20" y="189.90" font-size="3.8" fill="#222" stroke="#222" stroke-width="0.07" text-anchor="middle">14</text>
<rect x="229.85" y="184.90" width="7.30" height="0.50" fill="#12a8e8"/>
<text class="s" x="233.50" y="183.90" font-size="3.9" fill="#333" stroke="#333" stroke-width="0.05" text-anchor="middle">a</text>
<text class="s" x="233.50" y="189.90" font-size="3.8" fill="#222" stroke="#222" stroke-width="0.07" text-anchor="middle">25</text>
<rect x="241.15" y="159.90" width="7.30" height="25.50" fill="#12a8e8"/>
<line x1="244.80" y1="158.90" x2="244.80" y2="159.90" stroke="#333" stroke-width="0.4"/>
<line x1="243.80" y1="158.90" x2="245.80" y2="158.90" stroke="#333" stroke-width="0.4"/>
<text class="s" x="244.80" y="157.90" font-size="3.9" fill="#333" stroke="#333" stroke-width="0.05" text-anchor="middle">b</text>
<text class="s" x="244.80" y="189.90" font-size="3.8" fill="#222" stroke="#222" stroke-width="0.07" text-anchor="middle">49</text>
<text class="s" x="233.50" y="194.60" font-size="3.9" fill="#222" stroke="#222" stroke-width="0.08" text-anchor="middle">Days post hatching</text>
<text class="s" x="209.40" y="168.45" font-size="3.3" fill="#333" text-anchor="middle" transform="rotate(-90 209.40 168.45)">Relative expression level</text>
<text class="s" x="229.50" y="151.40" font-size="5.5" fill="#12a8e8" font-style="italic" font-weight="bold" text-anchor="middle">SWS2A&#946;</text>
<line x1="264.30" y1="151.50" x2="264.30" y2="185.40" stroke="#555" stroke-width="0.6"/>
<line x1="264.30" y1="185.40" x2="297.05" y2="185.40" stroke="#555" stroke-width="0.6"/>
<line x1="263.10" y1="185.40" x2="264.30" y2="185.40" stroke="#555" stroke-width="0.5"/>
<text class="s" x="262.70" y="187.30" font-size="3.7" fill="#333" stroke="#333" stroke-width="0.05" text-anchor="end">0</text>
<line x1="263.10" y1="176.93" x2="264.30" y2="176.93" stroke="#555" stroke-width="0.5"/>
<text class="s" x="262.70" y="178.83" font-size="3.7" fill="#333" stroke="#333" stroke-width="0.05" text-anchor="end">10</text>
<line x1="263.10" y1="168.45" x2="264.30" y2="168.45" stroke="#555" stroke-width="0.5"/>
<text class="s" x="262.70" y="170.35" font-size="3.7" fill="#333" stroke="#333" stroke-width="0.05" text-anchor="end">20</text>
<line x1="263.10" y1="159.97" x2="264.30" y2="159.97" stroke="#555" stroke-width="0.5"/>
<text class="s" x="262.70" y="161.88" font-size="3.7" fill="#333" stroke="#333" stroke-width="0.05" text-anchor="end">30</text>
<line x1="263.10" y1="151.50" x2="264.30" y2="151.50" stroke="#555" stroke-width="0.5"/>
<text class="s" x="262.70" y="153.40" font-size="3.7" fill="#333" stroke="#333" stroke-width="0.05" text-anchor="end">40</text>
<rect x="265.95" y="184.80" width="7.30" height="0.60" fill="#12a8e8"/>
<text class="s" x="269.60" y="183.50" font-size="3.9" fill="#333" stroke="#333" stroke-width="0.05" text-anchor="middle">a</text>
<text class="s" x="269.60" y="189.90" font-size="3.8" fill="#222" stroke="#222" stroke-width="0.07" text-anchor="middle">14</text>
<rect x="277.25" y="179.70" width="7.30" height="5.70" fill="#12a8e8"/>
<line x1="280.90" y1="178.80" x2="280.90" y2="179.70" stroke="#333" stroke-width="0.4"/>
<line x1="279.90" y1="178.80" x2="281.90" y2="178.80" stroke="#333" stroke-width="0.4"/>
<text class="s" x="280.90" y="177.80" font-size="3.9" fill="#333" stroke="#333" stroke-width="0.05" text-anchor="middle">b</text>
<text class="s" x="280.90" y="189.90" font-size="3.8" fill="#222" stroke="#222" stroke-width="0.07" text-anchor="middle">25</text>
<rect x="288.55" y="161.80" width="7.30" height="23.60" fill="#12a8e8"/>
<line x1="292.20" y1="160.50" x2="292.20" y2="161.80" stroke="#333" stroke-width="0.4"/>
<line x1="291.20" y1="160.50" x2="293.20" y2="160.50" stroke="#333" stroke-width="0.4"/>
<text class="s" x="292.20" y="159.50" font-size="3.9" fill="#333" stroke="#333" stroke-width="0.05" text-anchor="middle">c</text>
<text class="s" x="292.20" y="189.90" font-size="3.8" fill="#222" stroke="#222" stroke-width="0.07" text-anchor="middle">49</text>
<text class="s" x="280.90" y="194.60" font-size="3.9" fill="#222" stroke="#222" stroke-width="0.08" text-anchor="middle">Days post hatching</text>
<text class="s" x="256.90" y="168.45" font-size="3.3" fill="#333" text-anchor="middle" transform="rotate(-90 256.90 168.45)">Relative expression level</text>
<text class="s" x="279.30" y="151.40" font-size="5.5" fill="#12a8e8" font-style="italic" font-weight="bold" text-anchor="middle">SWS2B</text>
<line x1="314.90" y1="151.50" x2="314.90" y2="185.40" stroke="#555" stroke-width="0.6"/>
<line x1="314.90" y1="185.40" x2="347.65" y2="185.40" stroke="#555" stroke-width="0.6"/>
<line x1="313.70" y1="185.40" x2="314.90" y2="185.40" stroke="#555" stroke-width="0.5"/>
<text class="s" x="313.30" y="187.30" font-size="3.7" fill="#333" stroke="#333" stroke-width="0.05" text-anchor="end">0</text>
<line x1="313.70" y1="176.93" x2="314.90" y2="176.93" stroke="#555" stroke-width="0.5"/>
<text class="s" x="313.30" y="178.83" font-size="3.7" fill="#333" stroke="#333" stroke-width="0.05" text-anchor="end">50</text>
<line x1="313.70" y1="168.45" x2="314.90" y2="168.45" stroke="#555" stroke-width="0.5"/>
<text class="s" x="313.30" y="170.35" font-size="3.7" fill="#333" stroke="#333" stroke-width="0.05" text-anchor="end">100</text>
<line x1="313.70" y1="159.97" x2="314.90" y2="159.97" stroke="#555" stroke-width="0.5"/>
<text class="s" x="313.30" y="161.88" font-size="3.7" fill="#333" stroke="#333" stroke-width="0.05" text-anchor="end">150</text>
<line x1="313.70" y1="151.50" x2="314.90" y2="151.50" stroke="#555" stroke-width="0.5"/>
<text class="s" x="313.30" y="153.40" font-size="3.7" fill="#333" stroke="#333" stroke-width="0.05" text-anchor="end">200</text>
<rect x="316.55" y="184.50" width="7.30" height="0.90" fill="#f20c0c"/>
<text class="s" x="320.20" y="183.50" font-size="3.9" fill="#333" stroke="#333" stroke-width="0.05" text-anchor="middle">a</text>
<text class="s" x="320.20" y="189.90" font-size="3.8" fill="#222" stroke="#222" stroke-width="0.07" text-anchor="middle">14</text>
<rect x="327.85" y="184.00" width="7.30" height="1.40" fill="#f20c0c"/>
<line x1="331.50" y1="183.60" x2="331.50" y2="184.00" stroke="#333" stroke-width="0.4"/>
<line x1="330.50" y1="183.60" x2="332.50" y2="183.60" stroke="#333" stroke-width="0.4"/>
<text class="s" x="331.50" y="182.60" font-size="3.9" fill="#333" stroke="#333" stroke-width="0.05" text-anchor="middle">b</text>
<text class="s" x="331.50" y="189.90" font-size="3.8" fill="#222" stroke="#222" stroke-width="0.07" text-anchor="middle">25</text>
<rect x="339.15" y="160.80" width="7.30" height="24.60" fill="#f20c0c"/>
<line x1="342.80" y1="159.80" x2="342.80" y2="160.80" stroke="#333" stroke-width="0.4"/>
<line x1="341.80" y1="159.80" x2="343.80" y2="159.80" stroke="#333" stroke-width="0.4"/>
<text class="s" x="342.80" y="158.80" font-size="3.9" fill="#333" stroke="#333" stroke-width="0.05" text-anchor="middle">c</text>
<text class="s" x="342.80" y="189.90" font-size="3.8" fill="#222" stroke="#222" stroke-width="0.07" text-anchor="middle">49</text>
<text class="s" x="331.50" y="194.60" font-size="3.9" fill="#222" stroke="#222" stroke-width="0.08" text-anchor="middle">Days post hatching</text>
<text class="s" x="306.40" y="168.45" font-size="3.3" fill="#333" text-anchor="middle" transform="rotate(-90 306.40 168.45)">Relative expression level</text>
<text class="s" x="331.30" y="151.40" font-size="5.5" fill="#f20c0c" font-style="italic" font-weight="bold" text-anchor="middle">LWS</text>
<line x1="360.90" y1="151.50" x2="360.90" y2="185.40" stroke="#555" stroke-width="0.6"/>
<line x1="360.90" y1="185.40" x2="393.65" y2="185.40" stroke="#555" stroke-width="0.6"/>
<line x1="359.70" y1="185.40" x2="360.90" y2="185.40" stroke="#555" stroke-width="0.5"/>
<text class="s" x="359.30" y="187.30" font-size="3.7" fill="#333" stroke="#333" stroke-width="0.05" text-anchor="end">0</text>
<line x1="359.70" y1="178.62" x2="360.90" y2="178.62" stroke="#555" stroke-width="0.5"/>
<text class="s" x="359.30" y="180.52" font-size="3.7" fill="#333" stroke="#333" stroke-width="0.05" text-anchor="end">2</text>
<line x1="359.70" y1="171.84" x2="360.90" y2="171.84" stroke="#555" stroke-width="0.5"/>
<text class="s" x="359.30" y="173.74" font-size="3.7" fill="#333" stroke="#333" stroke-width="0.05" text-anchor="end">4</text>
<line x1="359.70" y1="165.06" x2="360.90" y2="165.06" stroke="#555" stroke-width="0.5"/>
<text class="s" x="359.30" y="166.96" font-size="3.7" fill="#333" stroke="#333" stroke-width="0.05" text-anchor="end">6</text>
<line x1="359.70" y1="158.28" x2="360.90" y2="158.28" stroke="#555" stroke-width="0.5"/>
<text class="s" x="359.30" y="160.18" font-size="3.7" fill="#333" stroke="#333" stroke-width="0.05" text-anchor="end">8</text>
<line x1="359.70" y1="151.50" x2="360.90" y2="151.50" stroke="#555" stroke-width="0.5"/>
<text class="s" x="359.30" y="153.40" font-size="3.7" fill="#333" stroke="#333" stroke-width="0.05" text-anchor="end">10</text>
<rect x="362.55" y="161.70" width="7.30" height="23.70" fill="#b004c6"/>
<line x1="366.20" y1="160.50" x2="366.20" y2="161.70" stroke="#333" stroke-width="0.4"/>
<line x1="365.20" y1="160.50" x2="367.20" y2="160.50" stroke="#333" stroke-width="0.4"/>
<text class="s" x="366.20" y="159.50" font-size="3.9" fill="#333" stroke="#333" stroke-width="0.05" text-anchor="middle">a</text>
<text class="s" x="366.20" y="189.90" font-size="3.8" fill="#222" stroke="#222" stroke-width="0.07" text-anchor="middle">14</text>
<rect x="373.85" y="157.40" width="7.30" height="28.00" fill="#b004c6"/>
<line x1="377.50" y1="156.80" x2="377.50" y2="157.40" stroke="#333" stroke-width="0.4"/>
<line x1="376.50" y1="156.80" x2="378.50" y2="156.80" stroke="#333" stroke-width="0.4"/>
<text class="s" x="377.50" y="155.80" font-size="3.9" fill="#333" stroke="#333" stroke-width="0.05" text-anchor="middle">a</text>
<text class="s" x="377.50" y="189.90" font-size="3.8" fill="#222" stroke="#222" stroke-width="0.07" text-anchor="middle">25</text>
<rect x="385.15" y="179.70" width="7.30" height="5.70" fill="#b004c6"/>
<line x1="388.80" y1="179.20" x2="388.80" y2="179.70" stroke="#333" stroke-width="0.4"/>
<line x1="387.80" y1="179.20" x2="389.80" y2="179.20" stroke="#333" stroke-width="0.4"/>
<text class="s" x="388.80" y="178.20" font-size="3.9" fill="#333" stroke="#333" stroke-width="0.05" text-anchor="middle">b</text>
<text class="s" x="388.80" y="189.90" font-size="3.8" fill="#222" stroke="#222" stroke-width="0.07" text-anchor="middle">49</text>
<text class="s" x="377.50" y="194.60" font-size="3.9" fill="#222" stroke="#222" stroke-width="0.08" text-anchor="middle">Days post hatching</text>
<text class="s" x="355.90" y="168.45" font-size="3.3" fill="#333" text-anchor="middle" transform="rotate(-90 355.90 168.45)">Relative expression level</text>
<text class="s" x="378.20" y="151.40" font-size="5.5" fill="#b004c6" font-style="italic" font-weight="bold" text-anchor="middle">SWS1</text>
<line x1="162.80" y1="69.50" x2="375.30" y2="69.50" stroke="#a6a6a6" stroke-width="0.75"/>
<text class="s" x="377.00" y="71.10" font-size="4.9" fill="#333" font-style="italic" stroke="#333" stroke-width="0.06">C. semilaevis</text>
<line x1="162.80" y1="77.40" x2="375.30" y2="77.40" stroke="#a6a6a6" stroke-width="0.75"/>
<text class="s" x="377.00" y="79.00" font-size="4.9" fill="#333" font-style="italic" stroke="#333" stroke-width="0.06">P. reticulata</text>
<line x1="162.80" y1="85.30" x2="375.30" y2="85.30" stroke="#a6a6a6" stroke-width="0.75"/>
<text class="s" x="377.00" y="86.90" font-size="4.9" fill="#333" font-style="italic" stroke="#333" stroke-width="0.06">G. aculeatus</text>
<line x1="162.80" y1="93.20" x2="375.30" y2="93.20" stroke="#a6a6a6" stroke-width="0.75"/>
<text class="s" x="377.00" y="94.80" font-size="4.9" fill="#333" font-style="italic" stroke="#333" stroke-width="0.06">O. latipes</text>
<line x1="162.80" y1="101.10" x2="375.30" y2="101.10" stroke="#a6a6a6" stroke-width="0.75"/>
<text class="s" x="377.00" y="102.70" font-size="4.9" fill="#333" font-style="italic" stroke="#333" stroke-width="0.06">O. niloticus</text>
<line x1="162.80" y1="109.00" x2="375.30" y2="109.00" stroke="#a6a6a6" stroke-width="0.75"/>
<text class="s" x="377.00" y="110.60" font-size="4.9" fill="#333" font-style="italic" stroke="#333" stroke-width="0.06">D. rerio</text>
<line x1="162.80" y1="116.90" x2="375.30" y2="116.90" stroke="#a6a6a6" stroke-width="0.75"/>
<text class="s" x="377.00" y="118.50" font-size="4.9" fill="#333" font-style="italic" stroke="#333" stroke-width="0.06">P. olivaceus</text>
<line x1="243.00" y1="124.80" x2="375.30" y2="124.80" stroke="#a6a6a6" stroke-width="0.75"/>
<circle cx="243" cy="124.80" r="0.8" fill="#111"/>
<text class="s" x="377.00" y="126.40" font-size="4.9" fill="#333" font-style="italic" stroke="#333" stroke-width="0.06">T. orientalis</text>
<path d="M174.80,67.00 L170.20,67.00 Q168.94,67.00 166.60,69.50 Q168.94,72.00 170.20,72.00 L174.80,72.00 Z" fill="#9b9b9b"/>
<path d="M188.00,67.00 L183.60,67.00 Q182.34,67.00 180.00,69.50 Q182.34,72.00 183.60,72.00 L188.00,72.00 Z" fill="#9b9b9b"/>
<path d="M195.00,67.00 L199.29,67.00 Q200.52,67.00 202.80,69.50 Q200.52,72.00 199.29,72.00 L195.00,72.00 Z" fill="#9b9b9b"/>
<path d="M218.00,67.00 L213.10,67.00 Q211.84,67.00 209.50,69.50 Q211.84,72.00 213.10,72.00 L218.00,72.00 Z" fill="#9b9b9b"/>
<path d="M230.20,67.00 L225.97,67.00 Q224.75,67.00 222.50,69.50 Q224.75,72.00 225.97,72.00 L230.20,72.00 Z" fill="#9b9b9b"/>
<path d="M234.30,67.00 L238.53,67.00 Q239.75,67.00 242.00,69.50 Q239.75,72.00 238.53,72.00 L234.30,72.00 Z" fill="#9b9b9b"/>
<path d="M257.50,67.00 L253.32,67.00 Q252.12,67.00 249.90,69.50 Q252.12,72.00 253.32,72.00 L257.50,72.00 Z" fill="#2ec42e"/>
<path d="M266.00,67.00 L270.18,67.00 Q271.38,67.00 273.60,69.50 Q271.38,72.00 270.18,72.00 L266.00,72.00 Z" fill="#2ec42e"/>
<path d="M328.20,67.00 L323.80,67.00 Q322.54,67.00 320.20,69.50 Q322.54,72.00 323.80,72.00 L328.20,72.00 Z" fill="#9b9b9b"/>
<path d="M334.20,67.00 L338.70,67.00 Q339.96,67.00 342.30,69.50 Q339.96,72.00 338.70,72.00 L334.20,72.00 Z" fill="#9b9b9b"/>
<path d="M355.80,67.00 L351.51,67.00 Q350.28,67.00 348.00,69.50 Q350.28,72.00 351.51,72.00 L355.80,72.00 Z" fill="#9b9b9b"/>
<path d="M363.30,67.00 L367.64,67.00 Q368.89,67.00 371.20,69.50 Q368.89,72.00 367.64,72.00 L363.30,72.00 Z" fill="#9b9b9b"/>
<path d="M174.80,74.90 L170.20,74.90 Q168.94,74.90 166.60,77.40 Q168.94,79.90 170.20,79.90 L174.80,79.90 Z" fill="#9b9b9b"/>
<path d="M188.00,74.90 L183.60,74.90 Q182.34,74.90 180.00,77.40 Q182.34,79.90 183.60,79.90 L188.00,79.90 Z" fill="#9b9b9b"/>
<path d="M195.00,74.90 L199.29,74.90 Q200.52,74.90 202.80,77.40 Q200.52,79.90 199.29,79.90 L195.00,79.90 Z" fill="#9b9b9b"/>
<path d="M218.00,74.90 L213.10,74.90 Q211.84,74.90 209.50,77.40 Q211.84,79.90 213.10,79.90 L218.00,79.90 Z" fill="#9b9b9b"/>
<path d="M234.30,74.90 L238.53,74.90 Q239.75,74.90 242.00,77.40 Q239.75,79.90 238.53,79.90 L234.30,79.90 Z" fill="#9b9b9b"/>
<path d="M249.90,74.90 L254.08,74.90 Q255.28,74.90 257.50,77.40 Q255.28,79.90 254.08,79.90 L249.90,79.90 Z" fill="#2ec42e"/>
<path d="M266.00,74.90 L270.18,74.90 Q271.38,74.90 273.60,77.40 Q271.38,79.90 270.18,79.90 L266.00,79.90 Z" fill="#2ec42e"/>
<path d="M328.20,74.90 L323.80,74.90 Q322.54,74.90 320.20,77.40 Q322.54,79.90 323.80,79.90 L328.20,79.90 Z" fill="#9b9b9b"/>
<path d="M334.20,74.90 L338.70,74.90 Q339.96,74.90 342.30,77.40 Q339.96,79.90 338.70,79.90 L334.20,79.90 Z" fill="#9b9b9b"/>
<path d="M355.80,74.90 L351.51,74.90 Q350.28,74.90 348.00,77.40 Q350.28,79.90 351.51,79.90 L355.80,79.90 Z" fill="#9b9b9b"/>
<path d="M363.30,74.90 L367.64,74.90 Q368.89,74.90 371.20,77.40 Q368.89,79.90 367.64,79.90 L363.30,79.90 Z" fill="#9b9b9b"/>
<path d="M174.80,82.80 L170.20,82.80 Q168.94,82.80 166.60,85.30 Q168.94,87.80 170.20,87.80 L174.80,87.80 Z" fill="#9b9b9b"/>
<path d="M188.00,82.80 L183.60,82.80 Q182.34,82.80 180.00,85.30 Q182.34,87.80 183.60,87.80 L188.00,87.80 Z" fill="#9b9b9b"/>
<path d="M195.00,82.80 L199.29,82.80 Q200.52,82.80 202.80,85.30 Q200.52,87.80 199.29,87.80 L195.00,87.80 Z" fill="#9b9b9b"/>
<path d="M218.00,82.80 L213.10,82.80 Q211.84,82.80 209.50,85.30 Q211.84,87.80 213.10,87.80 L218.00,87.80 Z" fill="#9b9b9b"/>
<path d="M257.50,82.80 L253.32,82.80 Q252.12,82.80 249.90,85.30 Q252.12,87.80 253.32,87.80 L257.50,87.80 Z" fill="#2ec42e"/>
<path d="M266.00,82.80 L270.18,82.80 Q271.38,82.80 273.60,85.30 Q271.38,87.80 270.18,87.80 L266.00,87.80 Z" fill="#2ec42e"/>
<path d="M328.20,82.80 L323.80,82.80 Q322.54,82.80 320.20,85.30 Q322.54,87.80 323.80,87.80 L328.20,87.80 Z" fill="#9b9b9b"/>
<path d="M334.20,82.80 L338.70,82.80 Q339.96,82.80 342.30,85.30 Q339.96,87.80 338.70,87.80 L334.20,87.80 Z" fill="#9b9b9b"/>
<path d="M355.80,82.80 L351.51,82.80 Q350.28,82.80 348.00,85.30 Q350.28,87.80 351.51,87.80 L355.80,87.80 Z" fill="#9b9b9b"/>
<path d="M174.80,90.70 L170.20,90.70 Q168.94,90.70 166.60,93.20 Q168.94,95.70 170.20,95.70 L174.80,95.70 Z" fill="#9b9b9b"/>
<path d="M188.00,90.70 L183.60,90.70 Q182.34,90.70 180.00,93.20 Q182.34,95.70 183.60,95.70 L188.00,95.70 Z" fill="#9b9b9b"/>
<path d="M195.00,90.70 L199.29,90.70 Q200.52,90.70 202.80,93.20 Q200.52,95.70 199.29,95.70 L195.00,95.70 Z" fill="#9b9b9b"/>
<path d="M218.00,90.70 L213.10,90.70 Q211.84,90.70 209.50,93.20 Q211.84,95.70 213.10,95.70 L218.00,95.70 Z" fill="#9b9b9b"/>
<path d="M249.90,90.70 L254.08,90.70 Q255.28,90.70 257.50,93.20 Q255.28,95.70 254.08,95.70 L249.90,95.70 Z" fill="#2ec42e"/>
<path d="M266.00,90.70 L270.18,90.70 Q271.38,90.70 273.60,93.20 Q271.38,95.70 270.18,95.70 L266.00,95.70 Z" fill="#2ec42e"/>
<path d="M282.40,90.70 L286.52,90.70 Q287.71,90.70 289.90,93.20 Q287.71,95.70 286.52,95.70 L282.40,95.70 Z" fill="#2ec42e"/>
<path d="M328.20,90.70 L323.80,90.70 Q322.54,90.70 320.20,93.20 Q322.54,95.70 323.80,95.70 L328.20,95.70 Z" fill="#9b9b9b"/>
<path d="M334.20,90.70 L338.70,90.70 Q339.96,90.70 342.30,93.20 Q339.96,95.70 338.70,95.70 L334.20,95.70 Z" fill="#9b9b9b"/>
<path d="M355.80,90.70 L351.51,90.70 Q350.28,90.70 348.00,93.20 Q350.28,95.70 351.51,95.70 L355.80,95.70 Z" fill="#9b9b9b"/>
<path d="M174.80,98.60 L170.20,98.60 Q168.94,98.60 166.60,101.10 Q168.94,103.60 170.20,103.60 L174.80,103.60 Z" fill="#9b9b9b"/>
<path d="M188.00,98.60 L183.60,98.60 Q182.34,98.60 180.00,101.10 Q182.34,103.60 183.60,103.60 L188.00,103.60 Z" fill="#9b9b9b"/>
<path d="M195.00,98.60 L199.29,98.60 Q200.52,98.60 202.80,101.10 Q200.52,103.60 199.29,103.60 L195.00,103.60 Z" fill="#9b9b9b"/>
<path d="M218.00,98.60 L213.10,98.60 Q211.84,98.60 209.50,101.10 Q211.84,103.60 213.10,103.60 L218.00,103.60 Z" fill="#9b9b9b"/>
<path d="M234.30,98.60 L238.53,98.60 Q239.75,98.60 242.00,101.10 Q239.75,103.60 238.53,103.60 L234.30,103.60 Z" fill="#9b9b9b"/>
<path d="M249.90,98.60 L254.08,98.60 Q255.28,98.60 257.50,101.10 Q255.28,103.60 254.08,103.60 L249.90,103.60 Z" fill="#2ec42e"/>
<path d="M273.60,98.60 L269.42,98.60 Q268.22,98.60 266.00,101.10 Q268.22,103.60 269.42,103.60 L273.60,103.60 Z" fill="#2ec42e"/>
<path d="M282.40,98.60 L286.52,98.60 Q287.71,98.60 289.90,101.10 Q287.71,103.60 286.52,103.60 L282.40,103.60 Z" fill="#2ec42e"/>
<path d="M328.20,98.60 L323.80,98.60 Q322.54,98.60 320.20,101.10 Q322.54,103.60 323.80,103.60 L328.20,103.60 Z" fill="#9b9b9b"/>
<path d="M334.20,98.60 L338.70,98.60 Q339.96,98.60 342.30,101.10 Q339.96,103.60 338.70,103.60 L334.20,103.60 Z" fill="#9b9b9b"/>
<path d="M355.80,98.60 L351.51,98.60 Q350.28,98.60 348.00,101.10 Q350.28,103.60 351.51,103.60 L355.80,103.60 Z" fill="#9b9b9b"/>
<path d="M363.30,98.60 L367.64,98.60 Q368.89,98.60 371.20,101.10 Q368.89,103.60 367.64,103.60 L363.30,103.60 Z" fill="#9b9b9b"/>
<path d="M174.80,106.50 L170.20,106.50 Q168.94,106.50 166.60,109.00 Q168.94,111.50 170.20,111.50 L174.80,111.50 Z" fill="#9b9b9b"/>
<path d="M188.00,106.50 L183.60,106.50 Q182.34,106.50 180.00,109.00 Q182.34,111.50 183.60,111.50 L188.00,111.50 Z" fill="#9b9b9b"/>
<path d="M195.00,106.50 L199.29,106.50 Q200.52,106.50 202.80,109.00 Q200.52,111.50 199.29,111.50 L195.00,111.50 Z" fill="#9b9b9b"/>
<path d="M218.00,106.50 L213.10,106.50 Q211.84,106.50 209.50,109.00 Q211.84,111.50 213.10,111.50 L218.00,111.50 Z" fill="#9b9b9b"/>
<path d="M234.30,106.50 L238.53,106.50 Q239.75,106.50 242.00,109.00 Q239.75,111.50 238.53,111.50 L234.30,111.50 Z" fill="#9b9b9b"/>
<path d="M249.90,106.50 L254.08,106.50 Q255.28,106.50 257.50,109.00 Q255.28,111.50 254.08,111.50 L249.90,111.50 Z" fill="#2ec42e"/>
<path d="M266.00,106.50 L270.18,106.50 Q271.38,106.50 273.60,109.00 Q271.38,111.50 270.18,111.50 L266.00,111.50 Z" fill="#2ec42e"/>
<path d="M282.40,106.50 L286.52,106.50 Q287.71,106.50 289.90,109.00 Q287.71,111.50 286.52,111.50 L282.40,111.50 Z" fill="#2ec42e"/>
<path d="M304.30,106.50 L308.37,106.50 Q309.54,106.50 311.70,109.00 Q309.54,111.50 308.37,111.50 L304.30,111.50 Z" fill="#2ec42e"/>
<path d="M328.20,106.50 L323.80,106.50 Q322.54,106.50 320.20,109.00 Q322.54,111.50 323.80,111.50 L328.20,111.50 Z" fill="#9b9b9b"/>
<path d="M334.20,106.50 L338.70,106.50 Q339.96,106.50 342.30,109.00 Q339.96,111.50 338.70,111.50 L334.20,111.50 Z" fill="#9b9b9b"/>
<path d="M174.80,114.40 L170.20,114.40 Q168.94,114.40 166.60,116.90 Q168.94,119.40 170.20,119.40 L174.80,119.40 Z" fill="#9b9b9b"/>
<path d="M188.00,114.40 L183.60,114.40 Q182.34,114.40 180.00,116.90 Q182.34,119.40 183.60,119.40 L188.00,119.40 Z" fill="#9b9b9b"/>
<path d="M195.00,114.40 L199.29,114.40 Q200.52,114.40 202.80,116.90 Q200.52,119.40 199.29,119.40 L195.00,119.40 Z" fill="#9b9b9b"/>
<path d="M218.00,114.40 L213.10,114.40 Q211.84,114.40 209.50,116.90 Q211.84,119.40 213.10,119.40 L218.00,119.40 Z" fill="#9b9b9b"/>
<path d="M234.30,114.40 L238.53,114.40 Q239.75,114.40 242.00,116.90 Q239.75,119.40 238.53,119.40 L234.30,119.40 Z" fill="#9b9b9b"/>
<path d="M249.90,114.40 L254.08,114.40 Q255.28,114.40 257.50,116.90 Q255.28,119.40 254.08,119.40 L249.90,119.40 Z" fill="#2ec42e"/>
<path d="M266.00,114.40 L270.18,114.40 Q271.38,114.40 273.60,116.90 Q271.38,119.40 270.18,119.40 L266.00,119.40 Z" fill="#2ec42e"/>
<path d="M289.90,114.40 L285.77,114.40 Q284.59,114.40 282.40,116.90 Q284.59,119.40 285.77,119.40 L289.90,119.40 Z" fill="#2ec42e"/>
<path d="M304.30,114.40 L308.37,114.40 Q309.54,114.40 311.70,116.90 Q309.54,119.40 308.37,119.40 L304.30,119.40 Z" fill="#2ec42e"/>
<path d="M328.20,114.40 L323.80,114.40 Q322.54,114.40 320.20,116.90 Q322.54,119.40 323.80,119.40 L328.20,119.40 Z" fill="#9b9b9b"/>
<path d="M334.20,114.40 L338.70,114.40 Q339.96,114.40 342.30,116.90 Q339.96,119.40 338.70,119.40 L334.20,119.40 Z" fill="#9b9b9b"/>
<path d="M355.80,114.40 L351.51,114.40 Q350.28,114.40 348.00,116.90 Q350.28,119.40 351.51,119.40 L355.80,119.40 Z" fill="#9b9b9b"/>
<path d="M363.30,114.40 L367.64,114.40 Q368.89,114.40 371.20,116.90 Q368.89,119.40 367.64,119.40 L363.30,119.40 Z" fill="#9b9b9b"/>
<path d="M249.90,122.30 L254.08,122.30 Q255.28,122.30 257.50,124.80 Q255.28,127.30 254.08,127.30 L249.90,127.30 Z" fill="#2ec42e"/>
<path d="M266.00,122.30 L270.18,122.30 Q271.38,122.30 273.60,124.80 Q271.38,127.30 270.18,127.30 L266.00,127.30 Z" fill="#2ec42e"/>
<path d="M289.90,122.30 L285.77,122.30 Q284.59,122.30 282.40,124.80 Q284.59,127.30 285.77,127.30 L289.90,127.30 Z" fill="#2ec42e"/>
<path d="M293.60,122.30 L297.67,122.30 Q298.84,122.30 301.00,124.80 Q298.84,127.30 297.67,127.30 L293.60,127.30 Z" fill="#2ec42e"/>
<path d="M311.70,122.30 L307.63,122.30 Q306.46,122.30 304.30,124.80 Q306.46,127.30 307.63,127.30 L311.70,127.30 Z" fill="#2ec42e"/>
<path d="M328.20,122.30 L323.80,122.30 Q322.54,122.30 320.20,124.80 Q322.54,127.30 323.80,127.30 L328.20,127.30 Z" fill="#9b9b9b"/>
<path d="M334.20,122.30 L338.70,122.30 Q339.96,122.30 342.30,124.80 Q339.96,127.30 338.70,127.30 L334.20,127.30 Z" fill="#9b9b9b"/>
<path d="M355.80,122.30 L351.51,122.30 Q350.28,122.30 348.00,124.80 Q350.28,127.30 351.51,127.30 L355.80,127.30 Z" fill="#9b9b9b"/>
<text class="s" x="171.20" y="64.80" font-size="3.8" fill="#444" font-style="italic" stroke="#444" stroke-width="0.05" text-anchor="middle">rab4a</text>
<text class="s" x="184.50" y="64.80" font-size="3.8" fill="#444" font-style="italic" stroke="#444" stroke-width="0.05" text-anchor="middle">arxf</text>
<text class="s" x="199.40" y="64.80" font-size="3.8" fill="#444" font-style="italic" stroke="#444" stroke-width="0.05" text-anchor="middle">fbfp1</text>
<text class="s" x="214.25" y="64.80" font-size="3.8" fill="#444" font-style="italic" stroke="#444" stroke-width="0.05" text-anchor="middle">slc6a13</text>
<text class="s" x="238.65" y="64.80" font-size="3.8" fill="#444" font-style="italic" stroke="#444" stroke-width="0.05" text-anchor="middle">slc6a1b</text>
<text class="s" x="254.20" y="64.80" font-size="4.0" fill="#27b827" font-style="italic" stroke="#27b827" stroke-width="0.05" text-anchor="middle">RH2B-1</text>
<text class="s" x="270.30" y="64.80" font-size="4.0" fill="#27b827" font-style="italic" stroke="#27b827" stroke-width="0.05" text-anchor="middle">RH2B-2</text>
<text class="s" x="286.65" y="64.80" font-size="4.0" fill="#27b827" font-style="italic" stroke="#27b827" stroke-width="0.05" text-anchor="middle">RH2A-1</text>
<text class="s" x="308.50" y="64.80" font-size="4.0" fill="#27b827" font-style="italic" stroke="#27b827" stroke-width="0.05" text-anchor="middle">RH2A-2</text>
<text class="s" x="324.70" y="64.80" font-size="3.8" fill="#444" font-style="italic" stroke="#444" stroke-width="0.05" text-anchor="middle">synpr</text>
<text class="s" x="338.75" y="64.80" font-size="3.8" fill="#444" font-style="italic" stroke="#444" stroke-width="0.05" text-anchor="middle">cadps</text>
<text class="s" x="352.40" y="64.80" font-size="3.8" fill="#444" font-style="italic" stroke="#444" stroke-width="0.05" text-anchor="middle">pgrg</text>
<text class="s" x="367.75" y="64.80" font-size="3.8" fill="#444" font-style="italic" stroke="#444" stroke-width="0.05" text-anchor="middle">c1orf47</text>
<line x1="162.20" y1="218.20" x2="374.80" y2="218.20" stroke="#a6a6a6" stroke-width="0.75"/>
<text class="s" x="375.80" y="219.80" font-size="4.9" fill="#333" font-style="italic" stroke="#333" stroke-width="0.06">D. rerio</text>
<line x1="162.20" y1="225.08" x2="374.80" y2="225.08" stroke="#a6a6a6" stroke-width="0.75"/>
<text class="s" x="375.80" y="226.68" font-size="4.9" fill="#333" font-style="italic" stroke="#333" stroke-width="0.06">O.latipes</text>
<line x1="162.20" y1="231.96" x2="374.80" y2="231.96" stroke="#a6a6a6" stroke-width="0.75"/>
<text class="s" x="375.80" y="233.56" font-size="4.9" fill="#333" font-style="italic" stroke="#333" stroke-width="0.06">T. nigroviridis</text>
<line x1="162.20" y1="238.84" x2="374.80" y2="238.84" stroke="#a6a6a6" stroke-width="0.75"/>
<text class="s" x="375.80" y="240.44" font-size="4.9" fill="#333" font-style="italic" stroke="#333" stroke-width="0.06">G. aculeatus</text>
<line x1="162.20" y1="245.72" x2="374.80" y2="245.72" stroke="#a6a6a6" stroke-width="0.75"/>
<text class="s" x="375.80" y="247.32" font-size="4.9" fill="#333" font-style="italic" stroke="#333" stroke-width="0.06">T. rubripes</text>
<line x1="162.20" y1="252.60" x2="374.80" y2="252.60" stroke="#a6a6a6" stroke-width="0.75"/>
<text class="s" x="375.80" y="254.20" font-size="4.9" fill="#333" font-style="italic" stroke="#333" stroke-width="0.06">O. niloticus</text>
<line x1="162.20" y1="259.48" x2="374.80" y2="259.48" stroke="#a6a6a6" stroke-width="0.75"/>
<text class="s" x="375.80" y="261.08" font-size="4.9" fill="#333" font-style="italic" stroke="#333" stroke-width="0.06">T. orientalis</text>
<line x1="162.20" y1="266.36" x2="374.80" y2="266.36" stroke="#a6a6a6" stroke-width="0.75"/>
<text class="s" x="375.80" y="267.96" font-size="4.9" fill="#333" font-style="italic" stroke="#333" stroke-width="0.06">P. olivaceus</text>
<line x1="162.20" y1="273.24" x2="374.80" y2="273.24" stroke="#a6a6a6" stroke-width="0.75"/>
<text class="s" x="375.80" y="274.84" font-size="4.9" fill="#333" font-style="italic" stroke="#333" stroke-width="0.06">C. semilaevis</text>
<path d="M166.00,215.82 L170.29,215.82 Q171.52,215.82 173.80,218.20 Q171.52,220.57 170.29,220.57 L166.00,220.57 Z" fill="#9b9b9b"/>
<path d="M198.70,215.82 L194.30,215.82 Q193.04,215.82 190.70,218.20 Q193.04,220.57 194.30,220.57 L198.70,220.57 Z" fill="#9b9b9b"/>
<path d="M205.20,215.82 L209.16,215.82 Q210.29,215.82 212.40,218.20 Q210.29,220.57 209.16,220.57 L205.20,220.57 Z" fill="#9b9b9b"/>
<path d="M225.00,215.82 L220.30,215.82 Q219.04,215.82 216.70,218.20 Q219.04,220.57 220.30,220.57 L225.00,220.57 Z" fill="#9b9b9b"/>
<path d="M247.20,215.65 L251.80,215.65 Q253.06,215.65 255.40,218.20 Q253.06,220.75 251.80,220.75 L247.20,220.75 Z" fill="#12a8e8"/>
<path d="M279.30,215.65 L284.40,215.65 Q285.66,215.65 288.00,218.20 Q285.66,220.75 284.40,220.75 L279.30,220.75 Z" fill="#f20c0c"/>
<path d="M294.00,215.65 L298.70,215.65 Q299.96,215.65 302.30,218.20 Q299.96,220.75 298.70,220.75 L294.00,220.75 Z" fill="#f20c0c"/>
<path d="M307.20,215.82 L311.60,215.82 Q312.86,215.82 315.20,218.20 Q312.86,220.57 311.60,220.57 L307.20,220.57 Z" fill="#9b9b9b"/>
<path d="M319.70,215.82 L323.99,215.82 Q325.22,215.82 327.50,218.20 Q325.22,220.57 323.99,220.57 L319.70,220.57 Z" fill="#9b9b9b"/>
<path d="M331.20,215.82 L335.90,215.82 Q337.16,215.82 339.50,218.20 Q337.16,220.57 335.90,220.57 L331.20,220.57 Z" fill="#9b9b9b"/>
<path d="M346.20,215.82 L350.60,215.82 Q351.86,215.82 354.20,218.20 Q351.86,220.57 350.60,220.57 L346.20,220.57 Z" fill="#9b9b9b"/>
<path d="M361.70,215.82 L366.10,215.82 Q367.36,215.82 369.70,218.20 Q367.36,220.57 366.10,220.57 L361.70,220.57 Z" fill="#9b9b9b"/>
<path d="M166.00,222.70 L170.29,222.70 Q171.52,222.70 173.80,225.08 Q171.52,227.45 170.29,227.45 L166.00,227.45 Z" fill="#9b9b9b"/>
<path d="M179.20,222.70 L183.49,222.70 Q184.72,222.70 187.00,225.08 Q184.72,227.45 183.49,227.45 L179.20,227.45 Z" fill="#9b9b9b"/>
<path d="M198.70,222.70 L194.30,222.70 Q193.04,222.70 190.70,225.08 Q193.04,227.45 194.30,227.45 L198.70,227.45 Z" fill="#9b9b9b"/>
<path d="M205.20,222.70 L209.16,222.70 Q210.29,222.70 212.40,225.08 Q210.29,227.45 209.16,227.45 L205.20,227.45 Z" fill="#9b9b9b"/>
<path d="M225.00,222.70 L220.30,222.70 Q219.04,222.70 216.70,225.08 Q219.04,227.45 220.30,227.45 L225.00,227.45 Z" fill="#9b9b9b"/>
<path d="M247.20,222.53 L251.80,222.53 Q253.06,222.53 255.40,225.08 Q253.06,227.63 251.80,227.63 L247.20,227.63 Z" fill="#12a8e8"/>
<path d="M264.70,222.53 L269.10,222.53 Q270.36,222.53 272.70,225.08 Q270.36,227.63 269.10,227.63 L264.70,227.63 Z" fill="#12a8e8"/>
<path d="M279.30,222.53 L284.40,222.53 Q285.66,222.53 288.00,225.08 Q285.66,227.63 284.40,227.63 L279.30,227.63 Z" fill="#f20c0c"/>
<path d="M294.00,222.53 L298.70,222.53 Q299.96,222.53 302.30,225.08 Q299.96,227.63 298.70,227.63 L294.00,227.63 Z" fill="#f20c0c"/>
<path d="M307.20,222.70 L311.60,222.70 Q312.86,222.70 315.20,225.08 Q312.86,227.45 311.60,227.45 L307.20,227.45 Z" fill="#9b9b9b"/>
<path d="M319.70,222.70 L323.99,222.70 Q325.22,222.70 327.50,225.08 Q325.22,227.45 323.99,227.45 L319.70,227.45 Z" fill="#9b9b9b"/>
<path d="M331.20,222.70 L335.90,222.70 Q337.16,222.70 339.50,225.08 Q337.16,227.45 335.90,227.45 L331.20,227.45 Z" fill="#9b9b9b"/>
<path d="M346.20,222.70 L350.60,222.70 Q351.86,222.70 354.20,225.08 Q351.86,227.45 350.60,227.45 L346.20,227.45 Z" fill="#9b9b9b"/>
<path d="M361.70,222.70 L366.10,222.70 Q367.36,222.70 369.70,225.08 Q367.36,227.45 366.10,227.45 L361.70,227.45 Z" fill="#9b9b9b"/>
<path d="M166.00,229.58 L170.29,229.58 Q171.52,229.58 173.80,231.96 Q171.52,234.33 170.29,234.33 L166.00,234.33 Z" fill="#9b9b9b"/>
<path d="M179.20,229.58 L183.49,229.58 Q184.72,229.58 187.00,231.96 Q184.72,234.33 183.49,234.33 L179.20,234.33 Z" fill="#9b9b9b"/>
<path d="M198.70,229.58 L194.30,229.58 Q193.04,229.58 190.70,231.96 Q193.04,234.33 194.30,234.33 L198.70,234.33 Z" fill="#9b9b9b"/>
<path d="M225.00,229.58 L220.30,229.58 Q219.04,229.58 216.70,231.96 Q219.04,234.33 220.30,234.33 L225.00,234.33 Z" fill="#9b9b9b"/>
<path d="M264.70,229.41 L269.10,229.41 Q270.36,229.41 272.70,231.96 Q270.36,234.51 269.10,234.51 L264.70,234.51 Z" fill="#12a8e8"/>
<path d="M279.30,229.41 L284.40,229.41 Q285.66,229.41 288.00,231.96 Q285.66,234.51 284.40,234.51 L279.30,234.51 Z" fill="#f20c0c"/>
<path d="M307.20,229.58 L311.60,229.58 Q312.86,229.58 315.20,231.96 Q312.86,234.33 311.60,234.33 L307.20,234.33 Z" fill="#9b9b9b"/>
<path d="M319.70,229.58 L323.99,229.58 Q325.22,229.58 327.50,231.96 Q325.22,234.33 323.99,234.33 L319.70,234.33 Z" fill="#9b9b9b"/>
<path d="M331.20,229.58 L335.90,229.58 Q337.16,229.58 339.50,231.96 Q337.16,234.33 335.90,234.33 L331.20,234.33 Z" fill="#9b9b9b"/>
<path d="M346.20,229.58 L350.60,229.58 Q351.86,229.58 354.20,231.96 Q351.86,234.33 350.60,234.33 L346.20,234.33 Z" fill="#9b9b9b"/>
<path d="M361.70,229.58 L366.10,229.58 Q367.36,229.58 369.70,231.96 Q367.36,234.33 366.10,234.33 L361.70,234.33 Z" fill="#9b9b9b"/>
<path d="M166.00,236.46 L170.29,236.46 Q171.52,236.46 173.80,238.84 Q171.52,241.21 170.29,241.21 L166.00,241.21 Z" fill="#9b9b9b"/>
<path d="M179.20,236.46 L183.49,236.46 Q184.72,236.46 187.00,238.84 Q184.72,241.21 183.49,241.21 L179.20,241.21 Z" fill="#9b9b9b"/>
<path d="M198.70,236.46 L194.30,236.46 Q193.04,236.46 190.70,238.84 Q193.04,241.21 194.30,241.21 L198.70,241.21 Z" fill="#9b9b9b"/>
<path d="M225.00,236.46 L220.30,236.46 Q219.04,236.46 216.70,238.84 Q219.04,241.21 220.30,241.21 L225.00,241.21 Z" fill="#9b9b9b"/>
<path d="M230.20,236.29 L234.90,236.29 Q236.16,236.29 238.50,238.84 Q236.16,241.39 234.90,241.39 L230.20,241.39 Z" fill="#12a8e8"/>
<path d="M279.30,236.29 L284.40,236.29 Q285.66,236.29 288.00,238.84 Q285.66,241.39 284.40,241.39 L279.30,241.39 Z" fill="#f20c0c"/>
<path d="M307.20,236.46 L311.60,236.46 Q312.86,236.46 315.20,238.84 Q312.86,241.21 311.60,241.21 L307.20,241.21 Z" fill="#9b9b9b"/>
<path d="M319.70,236.46 L323.99,236.46 Q325.22,236.46 327.50,238.84 Q325.22,241.21 323.99,241.21 L319.70,241.21 Z" fill="#9b9b9b"/>
<path d="M166.00,243.34 L170.29,243.34 Q171.52,243.34 173.80,245.72 Q171.52,248.09 170.29,248.09 L166.00,248.09 Z" fill="#9b9b9b"/>
<path d="M179.20,243.34 L183.49,243.34 Q184.72,243.34 187.00,245.72 Q184.72,248.09 183.49,248.09 L179.20,248.09 Z" fill="#9b9b9b"/>
<path d="M198.70,243.34 L194.30,243.34 Q193.04,243.34 190.70,245.72 Q193.04,248.09 194.30,248.09 L198.70,248.09 Z" fill="#9b9b9b"/>
<path d="M225.00,243.34 L220.30,243.34 Q219.04,243.34 216.70,245.72 Q219.04,248.09 220.30,248.09 L225.00,248.09 Z" fill="#9b9b9b"/>
<path d="M264.70,243.17 L269.10,243.17 Q270.36,243.17 272.70,245.72 Q270.36,248.27 269.10,248.27 L264.70,248.27 Z" fill="#12a8e8"/>
<path d="M279.30,243.17 L284.40,243.17 Q285.66,243.17 288.00,245.72 Q285.66,248.27 284.40,248.27 L279.30,248.27 Z" fill="#f20c0c"/>
<path d="M307.20,243.34 L311.60,243.34 Q312.86,243.34 315.20,245.72 Q312.86,248.09 311.60,248.09 L307.20,248.09 Z" fill="#9b9b9b"/>
<path d="M319.70,243.34 L323.99,243.34 Q325.22,243.34 327.50,245.72 Q325.22,248.09 323.99,248.09 L319.70,248.09 Z" fill="#9b9b9b"/>
<path d="M331.20,243.34 L335.90,243.34 Q337.16,243.34 339.50,245.72 Q337.16,248.09 335.90,248.09 L331.20,248.09 Z" fill="#9b9b9b"/>
<path d="M346.20,243.34 L350.60,243.34 Q351.86,243.34 354.20,245.72 Q351.86,248.09 350.60,248.09 L346.20,248.09 Z" fill="#9b9b9b"/>
<path d="M361.70,243.34 L366.10,243.34 Q367.36,243.34 369.70,245.72 Q367.36,248.09 366.10,248.09 L361.70,248.09 Z" fill="#9b9b9b"/>
<path d="M166.00,250.22 L170.29,250.22 Q171.52,250.22 173.80,252.60 Q171.52,254.97 170.29,254.97 L166.00,254.97 Z" fill="#9b9b9b"/>
<path d="M179.20,250.22 L183.49,250.22 Q184.72,250.22 187.00,252.60 Q184.72,254.97 183.49,254.97 L179.20,254.97 Z" fill="#9b9b9b"/>
<path d="M198.70,250.22 L194.30,250.22 Q193.04,250.22 190.70,252.60 Q193.04,254.97 194.30,254.97 L198.70,254.97 Z" fill="#9b9b9b"/>
<path d="M205.20,250.22 L209.16,250.22 Q210.29,250.22 212.40,252.60 Q210.29,254.97 209.16,254.97 L205.20,254.97 Z" fill="#9b9b9b"/>
<path d="M225.00,250.22 L220.30,250.22 Q219.04,250.22 216.70,252.60 Q219.04,254.97 220.30,254.97 L225.00,254.97 Z" fill="#9b9b9b"/>
<path d="M247.20,250.05 L251.80,250.05 Q253.06,250.05 255.40,252.60 Q253.06,255.15 251.80,255.15 L247.20,255.15 Z" fill="#12a8e8"/>
<path d="M264.70,250.05 L269.10,250.05 Q270.36,250.05 272.70,252.60 Q270.36,255.15 269.10,255.15 L264.70,255.15 Z" fill="#12a8e8"/>
<path d="M279.30,250.05 L284.40,250.05 Q285.66,250.05 288.00,252.60 Q285.66,255.15 284.40,255.15 L279.30,255.15 Z" fill="#f20c0c"/>
<path d="M307.20,250.22 L311.60,250.22 Q312.86,250.22 315.20,252.60 Q312.86,254.97 311.60,254.97 L307.20,254.97 Z" fill="#9b9b9b"/>
<path d="M319.70,250.22 L323.99,250.22 Q325.22,250.22 327.50,252.60 Q325.22,254.97 323.99,254.97 L319.70,254.97 Z" fill="#9b9b9b"/>
<path d="M331.20,250.22 L335.90,250.22 Q337.16,250.22 339.50,252.60 Q337.16,254.97 335.90,254.97 L331.20,254.97 Z" fill="#9b9b9b"/>
<path d="M346.20,250.22 L350.60,250.22 Q351.86,250.22 354.20,252.60 Q351.86,254.97 350.60,254.97 L346.20,254.97 Z" fill="#9b9b9b"/>
<path d="M361.70,250.22 L366.10,250.22 Q367.36,250.22 369.70,252.60 Q367.36,254.97 366.10,254.97 L361.70,254.97 Z" fill="#9b9b9b"/>
<path d="M166.00,257.11 L170.29,257.11 Q171.52,257.11 173.80,259.48 Q171.52,261.86 170.29,261.86 L166.00,261.86 Z" fill="#9b9b9b"/>
<path d="M179.20,257.11 L183.49,257.11 Q184.72,257.11 187.00,259.48 Q184.72,261.86 183.49,261.86 L179.20,261.86 Z" fill="#9b9b9b"/>
<path d="M205.20,257.11 L209.16,257.11 Q210.29,257.11 212.40,259.48 Q210.29,261.86 209.16,261.86 L205.20,261.86 Z" fill="#9b9b9b"/>
<path d="M225.00,257.11 L220.30,257.11 Q219.04,257.11 216.70,259.48 Q219.04,261.86 220.30,261.86 L225.00,261.86 Z" fill="#9b9b9b"/>
<path d="M247.20,256.93 L251.80,256.93 Q253.06,256.93 255.40,259.48 Q253.06,262.03 251.80,262.03 L247.20,262.03 Z" fill="#12a8e8"/>
<path d="M264.70,256.93 L269.10,256.93 Q270.36,256.93 272.70,259.48 Q270.36,262.03 269.10,262.03 L264.70,262.03 Z" fill="#12a8e8"/>
<path d="M279.30,256.93 L284.40,256.93 Q285.66,256.93 288.00,259.48 Q285.66,262.03 284.40,262.03 L279.30,262.03 Z" fill="#f20c0c"/>
<path d="M307.20,257.11 L311.60,257.11 Q312.86,257.11 315.20,259.48 Q312.86,261.86 311.60,261.86 L307.20,261.86 Z" fill="#9b9b9b"/>
<path d="M319.70,257.11 L323.99,257.11 Q325.22,257.11 327.50,259.48 Q325.22,261.86 323.99,261.86 L319.70,261.86 Z" fill="#9b9b9b"/>
<path d="M166.00,263.99 L170.29,263.99 Q171.52,263.99 173.80,266.36 Q171.52,268.74 170.29,268.74 L166.00,268.74 Z" fill="#9b9b9b"/>
<path d="M179.20,263.99 L183.49,263.99 Q184.72,263.99 187.00,266.36 Q184.72,268.74 183.49,268.74 L179.20,268.74 Z" fill="#9b9b9b"/>
<path d="M205.20,263.99 L209.16,263.99 Q210.29,263.99 212.40,266.36 Q210.29,268.74 209.16,268.74 L205.20,268.74 Z" fill="#9b9b9b"/>
<path d="M225.00,263.99 L220.30,263.99 Q219.04,263.99 216.70,266.36 Q219.04,268.74 220.30,268.74 L225.00,268.74 Z" fill="#9b9b9b"/>
<path d="M230.20,263.81 L234.90,263.81 Q236.16,263.81 238.50,266.36 Q236.16,268.91 234.90,268.91 L230.20,268.91 Z" fill="#12a8e8"/>
<path d="M247.20,263.81 L251.80,263.81 Q253.06,263.81 255.40,266.36 Q253.06,268.91 251.80,268.91 L247.20,268.91 Z" fill="#12a8e8"/>
<path d="M264.70,263.81 L269.10,263.81 Q270.36,263.81 272.70,266.36 Q270.36,268.91 269.10,268.91 L264.70,268.91 Z" fill="#12a8e8"/>
<path d="M279.30,263.81 L284.40,263.81 Q285.66,263.81 288.00,266.36 Q285.66,268.91 284.40,268.91 L279.30,268.91 Z" fill="#f20c0c"/>
<path d="M307.20,263.99 L311.60,263.99 Q312.86,263.99 315.20,266.36 Q312.86,268.74 311.60,268.74 L307.20,268.74 Z" fill="#9b9b9b"/>
<path d="M319.70,263.99 L323.99,263.99 Q325.22,263.99 327.50,266.36 Q325.22,268.74 323.99,268.74 L319.70,268.74 Z" fill="#9b9b9b"/>
<path d="M331.20,263.99 L335.90,263.99 Q337.16,263.99 339.50,266.36 Q337.16,268.74 335.90,268.74 L331.20,268.74 Z" fill="#9b9b9b"/>
<path d="M346.20,263.99 L350.60,263.99 Q351.86,263.99 354.20,266.36 Q351.86,268.74 350.60,268.74 L346.20,268.74 Z" fill="#9b9b9b"/>
<path d="M361.70,263.99 L366.10,263.99 Q367.36,263.99 369.70,266.36 Q367.36,268.74 366.10,268.74 L361.70,268.74 Z" fill="#9b9b9b"/>
<path d="M166.00,270.87 L170.29,270.87 Q171.52,270.87 173.80,273.24 Q171.52,275.62 170.29,275.62 L166.00,275.62 Z" fill="#9b9b9b"/>
<path d="M179.20,270.87 L183.49,270.87 Q184.72,270.87 187.00,273.24 Q184.72,275.62 183.49,275.62 L179.20,275.62 Z" fill="#9b9b9b"/>
<path d="M190.70,270.87 L195.10,270.87 Q196.36,270.87 198.70,273.24 Q196.36,275.62 195.10,275.62 L190.70,275.62 Z" fill="#9b9b9b"/>
<path d="M205.20,270.87 L209.16,270.87 Q210.29,270.87 212.40,273.24 Q210.29,275.62 209.16,275.62 L205.20,275.62 Z" fill="#9b9b9b"/>
<path d="M225.00,270.87 L220.30,270.87 Q219.04,270.87 216.70,273.24 Q219.04,275.62 220.30,275.62 L225.00,275.62 Z" fill="#9b9b9b"/>
<path d="M247.20,270.69 L251.80,270.69 Q253.06,270.69 255.40,273.24 Q253.06,275.79 251.80,275.79 L247.20,275.79 Z" fill="#12a8e8"/>
<path d="M264.70,270.87 L269.10,270.87 Q270.36,270.87 272.70,273.24 Q270.36,275.62 269.10,275.62 L264.70,275.62 Z" fill="#9b9b9b"/>
<path d="M288.00,270.87 L282.90,270.87 Q281.64,270.87 279.30,273.24 Q281.64,275.62 282.90,275.62 L288.00,275.62 Z" fill="#9b9b9b"/>
<path d="M302.00,270.87 L298.26,270.87 Q297.19,270.87 295.20,273.24 Q297.19,275.62 298.26,275.62 L302.00,275.62 Z" fill="#9b9b9b"/>
<path d="M314.70,270.87 L310.85,270.87 Q309.75,270.87 307.70,273.24 Q309.75,275.62 310.85,275.62 L314.70,275.62 Z" fill="#9b9b9b"/>
<path d="M326.70,270.87 L323.01,270.87 Q321.96,270.87 320.00,273.24 Q321.96,275.62 323.01,275.62 L326.70,275.62 Z" fill="#9b9b9b"/>
<path d="M340.20,270.24 L334.80,270.24 Q333.54,270.24 331.20,273.24 Q333.54,276.24 334.80,276.24 L340.20,276.24 Z" fill="#f20c0c"/>
<path d="M355.00,270.87 L350.88,270.87 Q349.69,270.87 347.50,273.24 Q349.69,275.62 350.88,275.62 L355.00,275.62 Z" fill="#9b9b9b"/>
<path d="M371.50,270.87 L367.38,270.87 Q366.19,270.87 364.00,273.24 Q366.19,275.62 367.38,275.62 L371.50,275.62 Z" fill="#9b9b9b"/>
<text class="s" x="169.90" y="213.90" font-size="3.9" fill="#555" font-style="italic" stroke="#555" stroke-width="0.05" text-anchor="middle">cdhpr</text>
<text class="s" x="183.10" y="213.90" font-size="3.9" fill="#555" font-style="italic" stroke="#555" stroke-width="0.05" text-anchor="middle">hcl21</text>
<text class="s" x="194.70" y="213.90" font-size="3.9" fill="#555" font-style="italic" stroke="#555" stroke-width="0.05" text-anchor="middle">psmd1</text>
<text class="s" x="208.80" y="213.90" font-size="3.9" fill="#555" font-style="italic" stroke="#555" stroke-width="0.05" text-anchor="middle">fut7</text>
<text class="s" x="220.85" y="213.90" font-size="3.9" fill="#555" font-style="italic" stroke="#555" stroke-width="0.05" text-anchor="middle">fut1</text>
<text class="s" x="234.35" y="214.10" font-size="4.3" fill="#12a8e8" font-style="italic" stroke="#12a8e8" stroke-width="0.05" text-anchor="middle">SWS2A&#946;</text>
<text class="s" x="251.30" y="214.10" font-size="4.3" fill="#12a8e8" font-style="italic" stroke="#12a8e8" stroke-width="0.05" text-anchor="middle">SWS2A&#945;</text>
<text class="s" x="268.70" y="214.10" font-size="4.3" fill="#12a8e8" font-style="italic" stroke="#12a8e8" stroke-width="0.05" text-anchor="middle">SWS2B</text>
<text class="s" x="283.65" y="214.10" font-size="4.3" fill="#f20c0c" font-style="italic" stroke="#f20c0c" stroke-width="0.05" text-anchor="middle">LWS</text>
<text class="s" x="298.15" y="214.10" font-size="4.3" fill="#f20c0c" font-style="italic" stroke="#f20c0c" stroke-width="0.05" text-anchor="middle">LWS</text>
<text class="s" x="311.20" y="213.90" font-size="3.9" fill="#555" font-style="italic" stroke="#555" stroke-width="0.05" text-anchor="middle">gnl3</text>
<text class="s" x="323.60" y="213.90" font-size="3.9" fill="#555" font-style="italic" stroke="#555" stroke-width="0.05" text-anchor="middle">ddx4</text>
<text class="s" x="335.35" y="213.90" font-size="3.9" fill="#555" font-style="italic" stroke="#555" stroke-width="0.05" text-anchor="middle">cox18</text>
<text class="s" x="350.20" y="213.90" font-size="3.9" fill="#555" font-style="italic" stroke="#555" stroke-width="0.05" text-anchor="middle">ankrd9</text>
<text class="s" x="365.70" y="213.90" font-size="3.9" fill="#555" font-style="italic" stroke="#555" stroke-width="0.05" text-anchor="middle">usb.CB</text>
<text class="s" x="169.90" y="280.00" font-size="3.4" fill="#555" font-style="italic" text-anchor="middle">c19orf42</text>
<text class="s" x="183.10" y="280.00" font-size="3.4" fill="#555" font-style="italic" text-anchor="middle">mus81.1</text>
<text class="s" x="194.70" y="280.00" font-size="3.4" fill="#555" font-style="italic" text-anchor="middle">mphpr</text>
<text class="s" x="208.80" y="280.00" font-size="3.4" fill="#555" font-style="italic" text-anchor="middle">stbd1</text>
<text class="s" x="220.85" y="280.00" font-size="3.4" fill="#555" font-style="italic" text-anchor="middle">hcfc1</text>
<text class="s" x="251.30" y="280.00" font-size="3.4" fill="#12a8e8" font-style="italic" text-anchor="middle">SWS2</text>
<text class="s" x="268.70" y="280.00" font-size="3.4" fill="#555" font-style="italic" text-anchor="middle">dcaf13</text>
<text class="s" x="283.65" y="280.00" font-size="3.4" fill="#555" font-style="italic" text-anchor="middle">mbp2</text>
<text class="s" x="298.60" y="280.00" font-size="3.4" fill="#555" font-style="italic" text-anchor="middle">slc1</text>
<text class="s" x="311.20" y="280.00" font-size="3.4" fill="#555" font-style="italic" text-anchor="middle">tfp1</text>
<text class="s" x="323.35" y="280.00" font-size="3.4" fill="#555" font-style="italic" text-anchor="middle">pot1</text>
<text class="s" x="335.70" y="280.00" font-size="3.4" fill="#f20c0c" font-style="italic" text-anchor="middle">LWS</text>
<text class="s" x="351.25" y="280.00" font-size="3.4" fill="#555" font-style="italic" text-anchor="middle">dcaf13</text>
<text class="s" x="367.75" y="280.00" font-size="3.4" fill="#555" font-style="italic" text-anchor="middle">ubp1</text>
</svg>
</body></html>
